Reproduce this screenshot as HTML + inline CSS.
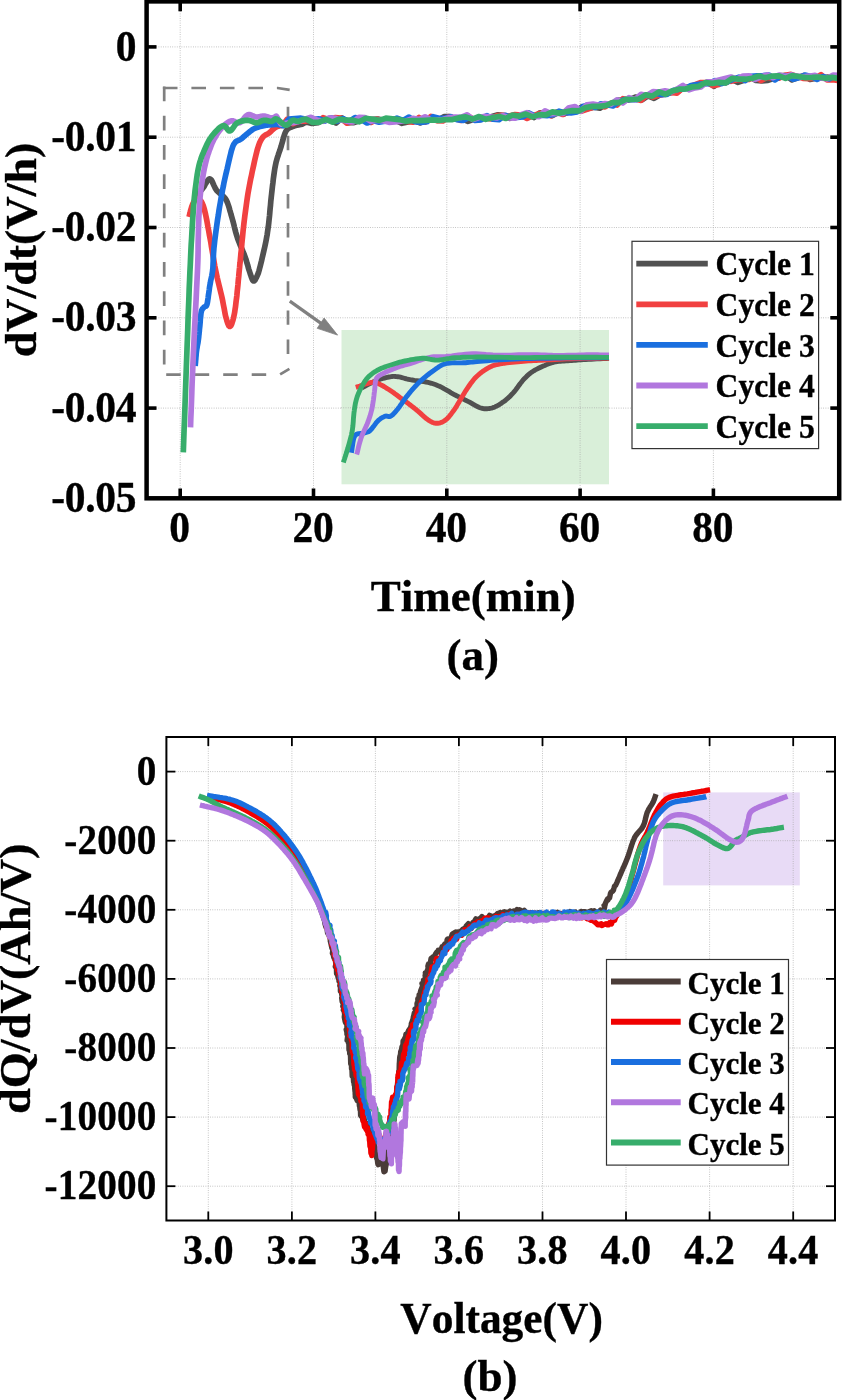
<!DOCTYPE html>
<html><head><meta charset="utf-8"><title>Figure</title>
<style>
html,body{margin:0;padding:0;background:#fff;}
body{width:842px;height:1400px;overflow:hidden;}
text{font-family:"Liberation Serif",serif;font-weight:bold;fill:#000;font-kerning:none;stroke:#000;stroke-width:0.35px;}
.lg{font-size:31px;}
.tk{font-size:41.5px;letter-spacing:-0.25px;}
.tk2{font-size:38.6px;letter-spacing:0.2px;}
.ax{font-size:45px;}
</style></head><body>
<svg width="842" height="1400" viewBox="0 0 842 1400" style="display:block">
<rect x="0" y="0" width="842" height="1400" fill="#fff"/>
<g stroke="#a6a6a6" stroke-width="0.8" stroke-dasharray="0.8 1.5" fill="none"><line x1="180.2" y1="2" x2="180.2" y2="497"/>
<line x1="313.5" y1="2" x2="313.5" y2="497"/>
<line x1="446.8" y1="2" x2="446.8" y2="497"/>
<line x1="580.1" y1="2" x2="580.1" y2="497"/>
<line x1="713.4" y1="2" x2="713.4" y2="497"/>
<line x1="147" y1="46.9" x2="839" y2="46.9"/>
<line x1="147" y1="137.2" x2="839" y2="137.2"/>
<line x1="147" y1="227.5" x2="839" y2="227.5"/>
<line x1="147" y1="317.8" x2="839" y2="317.8"/>
<line x1="147" y1="408.1" x2="839" y2="408.1"/></g>
<g fill="none" stroke="#808080" stroke-width="2.7"><path d="M164.2 86.6 V364.4" stroke-dasharray="14.7 14.55"/><path d="M166.2 374.7 H279.7 L289.4 368.8" stroke-dasharray="14.5 14"/><path d="M162.9 88 H277.5 L289.7 89.8" stroke-dasharray="14.6 13.9"/><path d="M288 353.9 V100" stroke-dasharray="14.4 14.7"/></g>
<line x1="289.8" y1="301.1" x2="326" y2="326.9" stroke="#808080" stroke-width="3.2"/>
<polygon points="337.6,335.1 317.2,328.3 324.1,318" fill="#808080" stroke="#808080" stroke-width="0.8" stroke-linejoin="round"/>
<rect x="341.5" y="330" width="267.5" height="154.3" fill="#d9efd9"/>
<g stroke="#a6a6a6" stroke-width="0.8" stroke-dasharray="0.8 1.5" fill="none"><line x1="446.8" y1="330" x2="446.8" y2="484"/><line x1="580.1" y1="330" x2="580.1" y2="484"/><line x1="341" y1="407.8" x2="609" y2="407.8"/></g>
<polyline points="196.0,196.0 196.9,195.0 197.8,194.0 198.6,193.1 199.5,192.1 200.4,191.1 201.3,190.1 202.1,189.1 203.0,188.0 203.9,186.8 204.7,185.3 205.6,183.7 206.5,182.2 207.3,180.8 208.2,179.7 209.1,179.0 209.9,178.8 210.7,179.3 211.5,180.2 212.3,181.6 213.0,183.3 213.8,185.2 214.7,187.0 215.5,188.7 216.5,190.2 217.6,191.4 218.8,192.5 220.0,193.6 221.3,194.6 222.6,195.7 223.8,196.8 225.0,198.2 226.0,199.7 226.9,201.4 227.7,203.4 228.4,205.4 229.1,207.5 229.7,209.8 230.4,212.1 231.0,214.4 231.7,216.8 232.4,219.2 233.1,221.8 233.8,224.4 234.4,227.1 235.1,229.8 235.8,232.5 236.6,235.2 237.4,237.7 238.3,240.2 239.2,242.6 240.2,245.1 241.2,247.5 242.3,249.9 243.2,252.2 244.2,254.5 245.0,256.7 245.8,258.9 246.5,261.2 247.1,263.4 247.8,265.5 248.3,267.6 248.9,269.6 249.5,271.4 250.0,273.0 250.5,274.5 251.0,275.9 251.4,277.2 251.9,278.4 252.3,279.4 252.7,280.2 253.1,280.7 253.6,281.0 254.1,280.9 254.6,280.5 255.1,279.9 255.6,279.1 256.1,278.1 256.6,277.0 257.1,276.0 257.5,275.0 257.9,274.1 258.2,273.4 258.5,272.6 258.7,271.8 259.0,270.8 259.3,269.6 259.7,268.1 260.2,266.2 260.8,263.8 261.5,261.0 262.2,257.9 263.0,254.5 263.8,251.0 264.6,247.6 265.3,244.4 265.9,241.5 266.4,238.9 266.8,236.6 267.2,234.4 267.5,232.2 267.8,230.1 268.1,227.8 268.5,225.3 268.8,222.5 269.1,219.4 269.5,216.0 269.8,212.5 270.1,208.8 270.5,205.1 270.8,201.3 271.2,197.6 271.6,194.0 272.0,190.4 272.4,186.7 272.9,182.9 273.3,179.2 273.8,175.5 274.3,172.0 274.8,168.6 275.4,165.5 276.0,162.6 276.7,160.0 277.4,157.5 278.2,155.2 278.9,152.9 279.7,150.8 280.4,148.6 281.1,146.5 281.7,144.3 282.3,142.2 282.9,140.1 283.4,138.0 284.0,136.1 284.6,134.3 285.2,132.7 285.9,131.3 286.6,130.2 287.4,129.3 288.1,128.7 288.9,128.2 289.7,127.7 290.6,127.4 291.5,127.0 292.5,126.6 293.5,126.2 294.7,125.8 295.9,125.5 297.1,125.3 298.3,125.0 299.6,124.7 300.8,124.5 302.0,124.2 306.0,122.0 312.0,123.5 318.0,122.7 324.0,119.3 330.0,119.7 336.0,123.1 342.0,117.9 348.0,122.7 354.0,122.6 360.0,120.6 366.0,119.5 372.0,119.3 378.0,119.1 384.0,120.2 390.0,120.5 396.0,120.7 402.0,123.3 408.0,122.0 414.0,120.8 420.0,122.9 426.0,118.1 432.0,117.7 438.0,120.3 444.0,116.7 450.0,116.5 456.0,119.2 462.0,118.8 468.0,121.3 474.0,119.4 480.0,118.5 486.0,118.2 492.0,116.5 498.0,114.8 504.0,115.6 510.0,118.3 516.0,115.0 522.0,115.7 528.0,113.0 534.0,117.5 540.0,112.8 546.0,112.7 552.0,115.7 558.0,112.7 564.0,113.9 570.0,111.8 576.0,111.5 582.0,106.7 588.0,108.4 594.0,107.1 600.0,108.2 606.0,104.1 612.0,104.4 618.0,100.0 624.0,100.9 630.0,99.3 636.0,97.0 642.0,99.8 648.0,95.9 654.0,98.3 660.0,94.7 666.0,93.6 672.0,92.5 678.0,91.5 684.0,87.0 690.0,87.5 696.0,85.0 702.0,84.9 708.0,82.0 714.0,86.3 720.0,80.9 726.0,82.8 732.0,79.7 738.0,82.4 744.0,80.4 750.0,76.7 756.0,80.5 762.0,80.8 768.0,80.4 774.0,78.2 780.0,75.5 786.0,75.6 792.0,79.9 798.0,77.6 804.0,75.3 810.0,79.5 816.0,78.1 822.0,77.9 828.0,77.1 834.0,77.8 840.0,77.2" fill="none" stroke="#515151" stroke-width="5.7" stroke-linejoin="round" />
<polyline points="189.0,217.0 189.4,215.6 189.7,214.2 190.1,212.7 190.4,211.2 190.8,209.8 191.2,208.5 191.6,207.2 192.0,206.0 192.4,204.9 192.9,203.8 193.4,202.7 193.9,201.7 194.4,200.8 194.9,200.0 195.4,199.4 196.0,199.0 196.6,198.8 197.2,198.7 197.8,198.7 198.5,198.9 199.2,199.2 199.8,199.7 200.4,200.3 201.0,201.0 201.5,201.8 202.0,202.8 202.5,203.8 203.0,205.0 203.5,206.4 204.0,208.0 204.5,209.8 205.0,212.0 205.6,214.5 206.2,217.3 206.8,220.4 207.4,223.7 208.0,227.2 208.7,230.7 209.3,234.4 210.0,238.0 210.7,241.7 211.3,245.7 212.0,249.7 212.7,253.8 213.4,258.0 214.1,262.1 214.8,266.1 215.6,270.0 216.4,273.8 217.2,277.6 218.1,281.4 219.0,285.1 219.9,288.7 220.7,292.1 221.5,295.4 222.2,298.5 222.8,301.4 223.3,304.2 223.8,306.8 224.3,309.2 224.7,311.5 225.1,313.7 225.5,315.7 226.0,317.5 226.5,319.2 226.9,320.9 227.4,322.4 227.9,323.8 228.4,324.9 228.8,325.8 229.3,326.3 229.8,326.5 230.3,326.3 230.8,325.8 231.3,324.9 231.8,323.8 232.2,322.4 232.7,320.9 233.2,319.2 233.6,317.5 234.0,315.7 234.4,313.7 234.8,311.5 235.1,309.2 235.5,306.8 235.8,304.2 236.1,301.4 236.5,298.5 236.9,295.3 237.2,291.8 237.6,288.1 238.0,284.2 238.3,280.4 238.7,276.7 239.0,273.2 239.3,270.0 239.6,267.2 239.8,264.7 240.1,262.4 240.3,260.2 240.5,258.1 240.7,255.9 240.9,253.5 241.2,251.0 241.5,248.3 241.7,245.6 241.9,242.9 242.2,240.0 242.5,237.1 242.8,234.0 243.1,230.8 243.5,227.3 243.9,223.6 244.4,219.5 244.9,215.3 245.5,211.0 246.1,206.6 246.7,202.2 247.3,198.0 247.9,194.0 248.6,190.1 249.3,186.3 250.0,182.5 250.7,178.9 251.5,175.3 252.2,171.8 252.9,168.6 253.6,165.5 254.2,162.6 254.8,159.9 255.4,157.3 256.0,154.8 256.6,152.5 257.1,150.4 257.7,148.4 258.3,146.5 258.9,144.8 259.4,143.3 260.0,142.0 260.6,140.8 261.2,139.7 261.7,138.8 262.4,137.8 263.0,137.0 263.7,136.3 264.4,135.7 265.1,135.2 265.8,134.9 266.5,134.5 267.3,134.1 268.0,133.7 268.8,133.2 269.6,132.6 270.4,131.8 271.2,131.1 272.0,130.3 272.8,129.5 273.7,128.7 274.5,128.1 275.4,127.5 276.3,127.0 277.2,126.6 278.2,126.3 279.1,126.0 280.1,125.8 281.1,125.6 282.0,125.3 283.0,125.0 287.0,119.4 293.0,123.7 299.0,120.9 305.0,121.2 311.0,119.7 317.0,122.2 323.0,117.7 329.0,119.8 335.0,117.7 341.0,118.2 347.0,123.2 353.0,121.3 359.0,119.9 365.0,120.5 371.0,122.5 377.0,119.3 383.0,120.7 389.0,121.2 395.0,119.1 401.0,120.0 407.0,121.4 413.0,122.2 419.0,117.5 425.0,122.1 431.0,116.4 437.0,120.7 443.0,120.9 449.0,116.7 455.0,118.3 461.0,120.5 467.0,115.5 473.0,119.0 479.0,119.8 485.0,117.9 491.0,119.0 497.0,115.7 503.0,115.3 509.0,116.0 515.0,114.6 521.0,115.2 527.0,118.4 533.0,115.6 539.0,113.6 545.0,112.5 551.0,115.8 557.0,112.0 563.0,114.5 569.0,110.8 575.0,110.0 581.0,111.3 587.0,109.3 593.0,107.3 599.0,105.3 605.0,106.9 611.0,103.1 617.0,105.0 623.0,98.7 629.0,99.7 635.0,99.0 641.0,100.4 647.0,95.0 653.0,97.1 659.0,95.1 665.0,94.1 671.0,92.3 677.0,93.1 683.0,87.9 689.0,87.0 695.0,84.6 701.0,82.5 707.0,82.5 713.0,85.7 719.0,84.4 725.0,79.2 731.0,81.3 737.0,79.7 743.0,79.7 749.0,79.5 755.0,76.9 761.0,80.6 767.0,77.4 773.0,78.2 779.0,78.1 785.0,75.2 791.0,74.4 797.0,76.4 803.0,78.4 809.0,78.7 815.0,78.2 821.0,74.7 827.0,79.9 833.0,79.6 839.0,80.6" fill="none" stroke="#f14040" stroke-width="5.7" stroke-linejoin="round" />
<polyline points="195.2,366.0 195.3,364.2 195.5,362.5 195.6,360.7 195.8,358.9 195.9,357.1 196.1,355.4 196.2,353.7 196.4,352.0 196.6,350.4 196.8,348.9 197.1,347.4 197.3,345.9 197.6,344.4 197.9,343.0 198.1,341.5 198.3,340.0 198.5,338.5 198.7,337.1 198.8,335.7 199.0,334.3 199.1,332.8 199.3,331.3 199.4,329.7 199.6,328.0 199.8,326.1 200.0,324.0 200.2,321.7 200.3,319.5 200.6,317.2 200.8,315.1 201.0,313.3 201.3,311.8 201.6,310.6 201.9,309.8 202.3,309.1 202.7,308.6 203.1,308.2 203.5,307.8 203.8,307.4 204.2,307.0 204.6,306.7 204.9,306.5 205.3,306.5 205.6,306.5 205.9,306.3 206.3,306.0 206.6,305.3 207.0,304.2 207.4,302.6 207.7,300.5 208.1,298.1 208.4,295.5 208.8,292.8 209.2,290.1 209.5,287.5 209.9,285.2 210.3,283.1 210.6,281.2 211.0,279.4 211.4,277.6 211.8,275.8 212.1,274.0 212.4,272.1 212.7,270.0 212.9,267.8 213.0,265.6 213.1,263.4 213.2,261.0 213.3,258.6 213.4,256.2 213.5,253.6 213.7,251.0 213.9,248.3 214.2,245.6 214.5,242.9 214.8,240.0 215.2,237.1 215.6,234.0 216.0,230.8 216.5,227.3 217.0,223.6 217.6,219.5 218.3,215.3 218.9,211.0 219.6,206.6 220.4,202.2 221.1,198.0 221.8,194.0 222.5,190.2 223.3,186.4 224.0,182.6 224.8,179.0 225.6,175.4 226.4,172.0 227.2,168.7 227.9,165.5 228.6,162.4 229.3,159.4 230.0,156.4 230.7,153.6 231.3,151.0 232.1,148.6 232.8,146.4 233.6,144.6 234.5,143.2 235.4,142.1 236.4,141.3 237.3,140.8 238.3,140.4 239.3,140.0 240.3,139.5 241.2,138.9 242.1,138.2 242.9,137.5 243.8,136.7 244.6,136.0 245.4,135.3 246.3,134.6 247.1,133.9 247.9,133.2 248.7,132.6 249.5,131.9 250.3,131.3 251.0,130.7 251.8,130.1 252.6,129.5 253.5,129.0 254.5,128.5 255.6,128.0 256.7,127.6 257.9,127.2 259.1,126.8 260.3,126.5 261.6,126.1 262.8,125.9 264.0,125.6 265.1,125.4 266.3,125.2 267.4,125.1 268.5,125.0 269.6,124.9 270.8,124.8 271.9,124.7 273.0,124.6 277.0,124.3 283.0,125.8 289.0,119.2 295.0,118.6 301.0,118.2 307.0,119.4 313.0,119.3 319.0,118.8 325.0,121.1 331.0,117.8 337.0,121.1 343.0,118.5 349.0,121.6 355.0,117.6 361.0,119.3 367.0,123.0 373.0,120.6 379.0,122.2 385.0,121.2 391.0,120.8 397.0,118.2 403.0,120.4 409.0,117.1 415.0,121.6 421.0,122.4 427.0,121.7 433.0,116.7 439.0,118.3 445.0,118.0 451.0,116.7 457.0,119.6 463.0,120.4 469.0,117.4 475.0,120.5 481.0,119.9 487.0,115.6 493.0,119.2 499.0,119.7 505.0,115.3 511.0,117.2 517.0,117.3 523.0,116.8 529.0,113.2 535.0,116.0 541.0,115.2 547.0,115.7 553.0,114.8 559.0,111.2 565.0,112.7 571.0,112.8 577.0,112.0 583.0,106.6 589.0,104.8 595.0,107.5 601.0,103.8 607.0,104.8 613.0,106.0 619.0,101.5 625.0,99.5 631.0,99.6 637.0,99.6 643.0,95.0 649.0,95.4 655.0,92.7 661.0,94.7 667.0,94.5 673.0,90.5 679.0,89.1 685.0,88.8 691.0,85.6 697.0,84.6 703.0,83.9 709.0,83.7 715.0,80.6 721.0,83.7 727.0,81.8 733.0,79.3 739.0,77.2 745.0,80.6 751.0,76.3 757.0,75.9 763.0,75.6 769.0,75.1 775.0,79.9 781.0,75.9 787.0,76.0 793.0,79.1 799.0,77.7 805.0,75.0 811.0,76.5 817.0,79.3 823.0,76.5 829.0,78.9 835.0,75.7" fill="none" stroke="#1a6fdf" stroke-width="5.7" stroke-linejoin="round" />
<polyline points="190.5,427.3 190.8,418.4 191.2,409.7 191.5,401.0 191.8,392.3 192.1,383.4 192.5,374.4 192.9,365.1 193.3,355.5 193.8,345.2 194.3,334.1 194.9,322.6 195.5,310.9 196.1,299.5 196.6,288.7 197.1,278.7 197.5,270.0 197.8,262.6 198.0,256.1 198.1,250.4 198.1,245.4 198.2,240.7 198.3,236.3 198.4,231.9 198.5,227.3 198.7,222.7 198.8,218.2 199.0,213.9 199.2,209.8 199.5,205.7 199.7,201.8 200.0,197.9 200.4,194.0 200.8,190.1 201.3,186.3 201.9,182.5 202.5,178.9 203.1,175.3 203.7,171.8 204.3,168.6 205.0,165.5 205.7,162.6 206.4,159.9 207.1,157.3 207.8,154.9 208.6,152.7 209.3,150.5 210.1,148.5 210.8,146.5 211.5,144.7 212.2,143.0 212.9,141.5 213.5,140.2 214.2,138.8 215.0,137.6 215.7,136.3 216.5,135.0 217.3,133.7 218.2,132.4 219.2,131.1 220.1,129.9 221.1,128.7 222.1,127.6 223.0,126.5 224.0,125.6 225.0,124.7 225.9,123.9 226.9,123.2 227.8,122.5 228.8,121.9 229.8,121.4 230.7,121.0 231.7,120.8 232.7,120.8 233.6,121.1 234.6,121.5 235.6,122.0 236.5,122.5 237.5,122.8 238.5,123.0 239.5,122.8 240.5,122.2 241.6,121.3 242.6,120.1 243.7,118.8 244.7,117.5 245.8,116.3 246.8,115.4 247.9,114.8 249.0,114.6 250.0,114.7 251.1,115.0 252.2,115.5 253.3,116.0 254.3,116.4 255.4,116.8 256.4,117.0 257.4,117.0 258.4,116.9 259.3,116.8 260.3,116.6 261.2,116.4 262.1,116.2 263.1,116.1 264.0,116.1 265.0,116.2 266.0,116.5 267.0,116.8 268.0,117.1 269.0,117.4 269.9,117.7 270.8,117.9 271.6,118.0 272.3,117.9 273.0,117.8 273.6,117.6 274.2,117.3 274.7,117.0 275.3,116.7 275.8,116.4 276.4,116.1 281.0,124.2 287.0,123.0 293.0,122.6 299.0,121.4 305.0,119.3 311.0,117.3 317.0,120.0 323.0,121.3 329.0,117.9 335.0,118.3 341.0,119.9 347.0,121.1 353.0,122.0 359.0,117.3 365.0,117.6 371.0,121.3 377.0,120.3 383.0,120.7 389.0,122.3 395.0,121.8 401.0,121.2 407.0,120.7 413.0,118.3 419.0,119.6 425.0,116.8 431.0,120.1 437.0,120.0 443.0,119.6 449.0,117.8 455.0,117.2 461.0,117.3 467.0,114.8 473.0,119.5 479.0,117.5 485.0,116.4 491.0,117.1 497.0,117.9 503.0,115.6 509.0,118.0 515.0,118.2 521.0,114.7 527.0,112.7 533.0,115.9 539.0,116.7 545.0,110.9 551.0,113.6 557.0,113.5 563.0,113.3 569.0,107.7 575.0,106.6 581.0,111.0 587.0,104.8 593.0,104.1 599.0,105.4 605.0,103.6 611.0,104.3 617.0,99.8 623.0,103.0 629.0,97.6 635.0,99.7 641.0,94.3 647.0,95.5 653.0,91.6 659.0,92.1 665.0,90.9 671.0,92.0 677.0,89.2 683.0,85.5 689.0,89.8 695.0,87.9 701.0,86.9 707.0,81.9 713.0,81.8 719.0,79.9 725.0,78.4 731.0,77.0 737.0,79.1 743.0,76.1 749.0,75.8 755.0,79.5 761.0,76.9 767.0,74.9 773.0,77.6 779.0,75.0 785.0,76.5 791.0,74.9 797.0,76.2 803.0,76.8 809.0,76.2 815.0,75.4 821.0,78.0 827.0,78.8 833.0,75.1 839.0,75.3" fill="none" stroke="#b177de" stroke-width="5.7" stroke-linejoin="round" />
<polyline points="183.3,452.4 183.7,440.8 184.1,429.0 184.6,417.2 185.0,405.4 185.4,393.7 185.8,382.2 186.2,371.0 186.6,360.0 187.0,349.2 187.4,338.5 187.8,327.9 188.1,317.5 188.5,307.5 188.9,297.8 189.2,288.6 189.6,280.0 189.9,272.0 190.3,264.5 190.6,257.4 190.9,250.7 191.2,244.4 191.6,238.5 191.9,232.8 192.2,227.3 192.5,222.2 192.8,217.5 193.1,213.2 193.3,209.1 193.6,205.3 194.0,201.5 194.3,197.8 194.7,194.0 195.1,190.1 195.6,186.3 196.1,182.5 196.6,178.9 197.1,175.3 197.7,171.8 198.3,168.6 199.0,165.5 199.7,162.6 200.6,159.9 201.4,157.3 202.3,154.9 203.3,152.7 204.2,150.5 205.1,148.5 206.0,146.5 206.8,144.7 207.6,143.0 208.4,141.5 209.1,140.2 209.9,138.8 210.8,137.6 211.7,136.3 212.7,135.0 213.9,133.6 215.1,132.2 216.5,130.7 218.0,129.2 219.4,127.9 220.8,126.9 222.0,126.1 223.2,125.6 224.2,125.7 225.1,126.2 225.9,127.1 226.7,128.2 227.4,129.3 228.2,130.3 229.0,130.9 229.8,131.0 230.7,130.6 231.6,129.8 232.4,128.7 233.4,127.4 234.3,126.1 235.3,124.8 236.3,123.6 237.4,122.8 238.6,122.2 239.9,121.7 241.2,121.2 242.6,120.9 244.0,120.6 245.3,120.4 246.7,120.3 247.9,120.3 249.1,120.4 250.2,120.7 251.3,121.1 252.3,121.5 253.4,122.0 254.4,122.4 255.4,122.7 256.4,122.8 257.4,122.7 258.4,122.4 259.3,122.1 260.3,121.6 261.2,121.2 262.1,120.8 263.1,120.5 264.0,120.3 265.0,120.3 266.0,120.4 267.0,120.6 268.0,120.8 269.0,121.1 269.9,121.3 270.8,121.4 271.6,121.4 272.3,121.2 272.9,120.8 273.4,120.4 273.9,119.9 274.4,119.4 274.9,119.1 275.6,118.9 276.4,119.0 277.4,119.4 278.5,120.2 279.7,121.2 281.0,122.3 282.3,123.3 283.6,124.2 284.8,124.9 285.9,125.2 286.9,125.1 287.8,124.6 288.6,123.9 289.5,123.1 290.3,122.2 291.0,121.4 291.8,120.7 292.5,120.3 293.2,120.2 293.9,120.2 294.6,120.4 295.2,120.6 295.9,120.9 296.5,121.2 297.1,121.3 297.7,121.4 298.3,121.3 298.8,121.2 299.4,121.0 299.9,120.8 300.4,120.6 300.9,120.3 301.5,120.1 302.0,119.9 306.0,119.1 312.7,122.4 319.3,122.2 326.0,119.3 332.6,122.2 339.3,119.1 346.0,120.2 352.6,120.2 359.3,121.8 365.9,118.3 372.6,119.3 379.3,120.4 385.9,118.2 392.6,118.8 399.2,119.6 405.9,121.2 412.6,120.6 419.2,120.7 425.9,120.3 432.5,119.9 439.2,120.4 445.9,119.5 452.5,119.6 459.2,117.7 465.8,116.9 472.5,119.1 479.2,116.5 485.8,119.3 492.5,117.7 499.1,116.4 505.8,118.5 512.5,115.0 519.1,116.1 525.8,114.0 532.4,116.9 539.1,114.6 545.8,114.8 552.4,111.9 559.1,113.1 565.7,111.8 572.4,110.6 579.1,110.8 585.7,107.6 592.4,106.4 599.0,106.3 605.7,105.7 612.4,102.5 619.0,102.6 625.7,99.4 632.3,99.5 639.0,99.0 645.7,94.8 652.3,96.1 659.0,91.9 665.6,94.3 672.3,90.9 679.0,89.2 685.6,89.0 692.3,86.8 698.9,86.3 705.6,82.6 712.3,83.4 718.9,82.4 725.6,82.9 732.2,78.4 738.9,79.2 745.6,79.2 752.2,78.3 758.9,76.0 765.5,77.8 772.2,76.1 778.9,75.8 785.5,78.4 792.2,75.6 798.8,76.5 805.5,77.6 812.2,77.4 818.8,77.0 825.5,78.3 832.1,77.4 838.8,78.6" fill="none" stroke="#37ad6b" stroke-width="5.7" stroke-linejoin="round" />
<polyline points="362.0,387.7 363.8,386.8 365.6,385.8 367.4,384.9 369.3,383.9 371.1,383.0 372.9,382.1 374.6,381.3 376.3,380.6 378.0,380.0 379.6,379.4 381.3,378.8 382.9,378.4 384.5,378.0 386.0,377.6 387.4,377.3 388.8,377.0 390.1,376.8 391.2,376.6 392.2,376.5 393.2,376.4 394.3,376.4 395.3,376.5 396.4,376.6 397.7,376.7 399.1,376.9 400.4,377.2 401.9,377.6 403.4,378.0 405.0,378.5 406.6,378.9 408.4,379.3 410.2,379.7 412.2,380.0 414.4,380.4 416.7,380.7 419.1,381.0 421.5,381.3 423.8,381.6 426.0,382.0 428.0,382.4 429.8,382.8 431.5,383.3 433.0,383.8 434.5,384.3 435.9,384.8 437.4,385.4 438.9,386.1 440.5,386.8 442.2,387.6 443.9,388.6 445.7,389.6 447.5,390.6 449.3,391.7 451.1,392.8 452.9,393.8 454.7,394.8 456.5,395.7 458.4,396.7 460.2,397.6 462.1,398.5 464.0,399.4 465.7,400.3 467.4,401.1 469.0,401.9 470.5,402.7 471.8,403.5 473.2,404.2 474.4,405.0 475.6,405.6 476.7,406.3 477.8,406.8 478.9,407.3 479.9,407.7 480.8,408.0 481.7,408.3 482.5,408.4 483.3,408.6 484.2,408.7 485.0,408.7 486.0,408.7 487.0,408.7 488.1,408.6 489.1,408.5 490.2,408.3 491.4,408.1 492.5,407.8 493.7,407.4 494.9,406.9 496.2,406.3 497.5,405.6 498.9,404.8 500.2,404.0 501.6,403.1 503.0,402.1 504.3,401.2 505.6,400.2 506.8,399.2 508.0,398.2 509.1,397.1 510.2,396.1 511.2,394.9 512.3,393.8 513.4,392.6 514.5,391.3 515.6,390.0 516.7,388.5 517.8,387.0 518.9,385.4 520.1,383.9 521.2,382.4 522.3,381.0 523.4,379.7 524.5,378.5 525.6,377.4 526.6,376.4 527.7,375.4 528.8,374.4 529.9,373.5 531.1,372.6 532.4,371.7 533.8,370.8 535.3,369.9 536.9,369.1 538.5,368.3 540.1,367.5 541.7,366.7 543.3,366.0 544.8,365.4 546.2,364.8 547.5,364.3 548.8,363.8 550.0,363.3 551.3,362.9 552.6,362.6 554.0,362.2 555.5,361.9 557.1,361.6 558.8,361.4 560.5,361.2 562.3,361.1 564.2,361.0 566.0,360.9 567.9,360.7 569.8,360.6 571.7,360.5 573.5,360.3 575.4,360.2 577.2,360.0 579.2,359.9 581.3,359.8 583.4,359.6 585.8,359.5 588.4,359.4 591.1,359.2 594.0,359.1 596.9,358.9 600.0,358.8 603.0,358.6 606.1,358.5 609.0,358.3" fill="none" stroke="#515151" stroke-width="4.9" stroke-linejoin="round" />
<polyline points="355.8,387.3 357.8,386.7 359.8,386.0 361.9,385.2 363.9,384.5 365.9,383.9 367.8,383.3 369.5,382.8 371.0,382.5 372.2,382.3 373.2,382.2 374.1,382.2 374.8,382.3 375.5,382.5 376.2,382.8 377.0,383.1 378.0,383.5 379.2,384.0 380.4,384.6 381.7,385.3 383.1,386.0 384.5,386.8 385.9,387.7 387.3,388.6 388.8,389.5 390.3,390.5 391.8,391.5 393.3,392.5 394.8,393.7 396.4,394.8 398.0,396.0 399.6,397.2 401.3,398.4 403.0,399.7 404.8,400.9 406.6,402.3 408.4,403.6 410.2,405.0 412.0,406.4 413.8,407.8 415.5,409.1 417.2,410.5 418.8,411.9 420.5,413.4 422.1,414.9 423.7,416.3 425.2,417.6 426.6,418.8 428.0,419.8 429.3,420.6 430.5,421.3 431.6,421.9 432.7,422.4 433.7,422.8 434.8,423.1 435.8,423.2 436.9,423.3 438.0,423.2 439.1,423.1 440.2,422.8 441.3,422.4 442.5,421.9 443.6,421.3 444.7,420.6 445.8,419.8 446.9,418.9 448.0,417.8 449.1,416.6 450.1,415.3 451.2,413.9 452.3,412.4 453.5,410.8 454.7,409.1 456.0,407.2 457.2,405.1 458.6,402.8 459.9,400.4 461.3,398.0 462.7,395.7 464.1,393.4 465.4,391.3 466.7,389.3 468.0,387.4 469.3,385.5 470.6,383.6 471.9,381.9 473.2,380.2 474.6,378.5 476.1,377.0 477.7,375.5 479.3,374.1 481.0,372.7 482.7,371.4 484.5,370.2 486.2,369.1 487.9,368.1 489.6,367.2 491.2,366.4 492.6,365.8 494.0,365.3 495.4,364.9 496.8,364.6 498.4,364.3 500.1,363.9 502.1,363.6 504.3,363.2 506.8,362.9 509.4,362.6 512.2,362.3 515.0,362.0 517.9,361.8 520.7,361.5 523.4,361.3 526.0,361.1 528.5,360.9 531.0,360.8 533.5,360.6 536.1,360.5 538.8,360.4 541.7,360.3 544.8,360.1 548.1,359.9 551.6,359.7 555.3,359.5 559.1,359.3 563.0,359.1 567.0,358.9 571.0,358.7 575.0,358.6 579.1,358.5 583.2,358.4 587.5,358.3 591.8,358.2 596.1,358.2 600.4,358.1 604.7,358.1 609.0,358.0" fill="none" stroke="#f14040" stroke-width="4.9" stroke-linejoin="round" />
<polyline points="351.4,452.7 351.8,450.5 352.1,448.1 352.5,445.7 352.8,443.4 353.2,441.1 353.6,439.0 354.2,437.2 354.9,435.8 355.8,434.8 356.8,434.1 358.0,433.7 359.2,433.6 360.4,433.5 361.6,433.4 362.8,433.3 363.8,433.1 364.7,432.8 365.5,432.6 366.3,432.4 367.0,432.2 367.7,432.0 368.5,431.7 369.2,431.2 370.1,430.5 371.0,429.6 372.0,428.4 373.0,427.1 374.1,425.7 375.1,424.3 376.1,422.9 377.1,421.7 378.1,420.7 379.0,419.9 380.0,419.1 380.9,418.4 381.8,417.8 382.7,417.3 383.6,416.9 384.4,416.5 385.2,416.2 385.9,416.0 386.6,416.1 387.3,416.2 387.9,416.4 388.5,416.5 389.2,416.6 389.9,416.5 390.6,416.2 391.4,415.7 392.2,415.1 393.1,414.3 393.9,413.4 394.8,412.5 395.8,411.4 396.7,410.3 397.7,409.1 398.7,407.8 399.7,406.4 400.7,404.9 401.8,403.3 402.9,401.6 404.1,400.0 405.3,398.3 406.6,396.6 408.0,394.9 409.4,393.1 410.9,391.3 412.5,389.4 414.1,387.6 415.8,385.8 417.4,384.1 419.1,382.4 420.8,380.8 422.6,379.2 424.4,377.7 426.2,376.2 428.0,374.7 429.8,373.3 431.6,372.0 433.3,370.8 434.9,369.6 436.4,368.5 437.9,367.5 439.3,366.5 440.8,365.6 442.3,364.8 444.0,364.2 445.8,363.6 447.8,363.2 449.9,363.0 452.1,362.9 454.5,362.8 456.8,362.9 459.1,362.9 461.4,362.9 463.6,362.8 465.6,362.7 467.4,362.5 469.1,362.3 470.8,362.1 472.6,362.0 474.7,361.7 477.1,361.5 480.0,361.3 483.4,361.0 487.1,360.8 491.1,360.4 495.4,360.1 500.0,359.8 504.7,359.5 509.5,359.2 514.5,359.0 519.6,358.8 525.0,358.6 530.6,358.5 536.3,358.4 542.2,358.3 548.1,358.2 554.1,358.1 560.0,358.0 566.0,357.9 572.0,357.9 578.1,357.8 584.3,357.8 590.5,357.7 596.7,357.7 602.9,357.6 609.0,357.6" fill="none" stroke="#1a6fdf" stroke-width="4.9" stroke-linejoin="round" />
<polyline points="356.7,454.5 357.3,452.4 357.8,450.2 358.3,448.0 358.8,445.9 359.4,443.7 360.0,441.6 360.6,439.6 361.2,437.6 361.9,435.7 362.7,433.8 363.5,432.0 364.3,430.3 365.1,428.5 365.9,426.8 366.7,425.1 367.4,423.3 368.1,421.5 368.7,419.8 369.3,418.1 369.9,416.4 370.4,414.7 370.9,412.9 371.4,411.0 371.9,409.1 372.3,407.0 372.7,404.8 373.0,402.5 373.4,400.1 373.7,397.7 374.0,395.5 374.2,393.3 374.5,391.3 374.7,389.4 374.9,387.6 375.0,385.9 375.1,384.3 375.3,382.7 375.5,381.3 375.8,380.0 376.3,378.8 376.9,377.8 377.5,377.0 378.3,376.3 379.1,375.7 380.0,375.2 381.0,374.6 382.1,374.1 383.4,373.4 384.9,372.6 386.5,371.8 388.3,371.0 390.2,370.2 392.2,369.4 394.1,368.6 395.9,367.9 397.7,367.2 399.3,366.6 400.8,366.2 402.2,365.8 403.6,365.4 405.1,365.0 406.6,364.6 408.3,364.2 410.2,363.6 412.3,362.9 414.7,362.1 417.2,361.2 419.8,360.3 422.4,359.5 425.0,358.6 427.5,357.9 429.8,357.4 431.9,357.0 433.8,356.8 435.6,356.8 437.4,356.7 439.2,356.7 441.1,356.7 443.3,356.7 445.8,356.5 448.6,356.2 451.7,355.9 455.0,355.4 458.4,355.0 462.0,354.6 465.5,354.2 469.1,354.0 472.5,353.8 475.9,353.8 479.3,353.9 482.6,354.1 486.0,354.4 489.5,354.6 492.9,354.9 496.4,355.1 500.0,355.2 503.6,355.2 507.3,355.2 511.1,355.1 514.8,354.9 518.6,354.8 522.4,354.7 526.2,354.6 530.0,354.6 533.8,354.6 537.5,354.7 541.2,354.9 545.0,355.0 548.8,355.1 552.5,355.3 556.2,355.4 560.0,355.4 563.8,355.4 567.8,355.3 571.7,355.2 575.7,355.1 579.6,355.0 583.3,354.9 586.8,354.8 590.0,354.8 592.9,354.8 595.5,354.8 597.9,354.8 600.2,354.9 602.4,354.9 604.5,354.9 606.7,355.0 609.0,355.0" fill="none" stroke="#b177de" stroke-width="4.9" stroke-linejoin="round" />
<polyline points="343.4,462.5 343.9,460.7 344.5,459.0 345.0,457.3 345.6,455.6 346.1,453.9 346.7,452.1 347.2,450.2 347.8,448.3 348.4,446.2 349.0,444.1 349.6,441.9 350.2,439.6 350.8,437.3 351.4,435.0 351.9,432.8 352.3,430.5 352.6,428.2 352.9,425.9 353.1,423.6 353.3,421.3 353.4,419.0 353.6,416.8 353.8,414.7 354.0,412.6 354.3,410.6 354.5,408.8 354.8,406.9 355.1,405.2 355.4,403.4 355.8,401.7 356.2,400.1 356.7,398.4 357.2,396.7 357.8,395.1 358.5,393.5 359.1,391.9 359.8,390.3 360.6,388.8 361.3,387.3 362.1,385.9 362.9,384.5 363.7,383.2 364.5,381.9 365.3,380.7 366.2,379.5 367.1,378.3 368.1,377.2 369.2,376.1 370.4,375.1 371.6,374.1 372.9,373.1 374.2,372.2 375.6,371.4 377.0,370.5 378.5,369.7 379.9,369.0 381.4,368.3 382.9,367.7 384.5,367.1 386.0,366.5 387.6,366.0 389.2,365.5 390.8,365.0 392.4,364.5 393.9,364.0 395.4,363.5 396.8,363.1 398.3,362.6 399.8,362.2 401.3,361.8 403.0,361.4 404.8,361.0 406.8,360.6 409.0,360.2 411.2,359.7 413.6,359.3 415.9,358.9 418.3,358.6 420.5,358.4 422.6,358.3 424.5,358.3 426.3,358.5 428.1,358.8 429.8,359.2 431.4,359.5 433.2,359.8 435.0,360.0 436.9,360.1 438.9,360.0 440.9,359.8 443.0,359.5 445.1,359.1 447.3,358.7 449.6,358.4 452.1,358.0 454.7,357.8 457.4,357.6 460.2,357.5 463.0,357.3 466.0,357.2 469.1,357.1 472.5,357.1 476.1,357.0 480.0,357.0 484.3,357.0 489.0,357.1 493.9,357.2 499.1,357.3 504.4,357.4 509.7,357.5 514.9,357.6 520.0,357.6 524.9,357.6 529.8,357.6 534.6,357.5 539.4,357.4 544.3,357.4 549.4,357.3 554.6,357.2 560.0,357.2 565.7,357.2 571.6,357.2 577.7,357.2 583.9,357.3 590.2,357.3 596.5,357.3 602.8,357.4 609.0,357.4" fill="none" stroke="#37ad6b" stroke-width="4.9" stroke-linejoin="round" />
<g stroke="#000" stroke-width="3.6" fill="none"><line x1="180.2" y1="2" x2="180.2" y2="11.3"/>
<line x1="180.2" y1="498" x2="180.2" y2="488.5"/>
<line x1="313.5" y1="2" x2="313.5" y2="11.3"/>
<line x1="313.5" y1="498" x2="313.5" y2="488.5"/>
<line x1="446.8" y1="2" x2="446.8" y2="11.3"/>
<line x1="446.8" y1="498" x2="446.8" y2="488.5"/>
<line x1="580.1" y1="2" x2="580.1" y2="11.3"/>
<line x1="580.1" y1="498" x2="580.1" y2="488.5"/>
<line x1="713.4" y1="2" x2="713.4" y2="11.3"/>
<line x1="713.4" y1="498" x2="713.4" y2="488.5"/>
<line x1="147" y1="46.9" x2="156.5" y2="46.9"/>
<line x1="839" y1="46.9" x2="830.3" y2="46.9"/>
<line x1="147" y1="137.2" x2="156.5" y2="137.2"/>
<line x1="839" y1="137.2" x2="830.3" y2="137.2"/>
<line x1="147" y1="227.5" x2="156.5" y2="227.5"/>
<line x1="839" y1="227.5" x2="830.3" y2="227.5"/>
<line x1="147" y1="317.8" x2="156.5" y2="317.8"/>
<line x1="839" y1="317.8" x2="830.3" y2="317.8"/>
<line x1="147" y1="408.1" x2="156.5" y2="408.1"/>
<line x1="839" y1="408.1" x2="830.3" y2="408.1"/></g>
<rect x="146.6" y="1.4" width="692.6" height="496.9" fill="none" stroke="#000" stroke-width="4.5"/>
<rect x="632" y="241.3" width="186.6" height="207.3" fill="#fff" stroke="#333" stroke-width="1.2"/>
<line x1="636.3" y1="263.7" x2="707.8" y2="263.7" stroke="#515151" stroke-width="5.8"/>
<text transform="translate(715.6 275.3) scale(1.02 1.07)" class="lg" text-anchor="start">Cycle 1</text>
<line x1="636.3" y1="304.3" x2="707.8" y2="304.3" stroke="#f14040" stroke-width="5.8"/>
<text transform="translate(715.6 315.9) scale(1.02 1.07)" class="lg" text-anchor="start">Cycle 2</text>
<line x1="636.3" y1="344.9" x2="707.8" y2="344.9" stroke="#1a6fdf" stroke-width="5.8"/>
<text transform="translate(715.6 356.5) scale(1.02 1.07)" class="lg" text-anchor="start">Cycle 3</text>
<line x1="636.3" y1="385.5" x2="707.8" y2="385.5" stroke="#b177de" stroke-width="5.8"/>
<text transform="translate(715.6 397.1) scale(1.02 1.07)" class="lg" text-anchor="start">Cycle 4</text>
<line x1="636.3" y1="426.1" x2="707.8" y2="426.1" stroke="#37ad6b" stroke-width="5.8"/>
<text transform="translate(715.6 437.7) scale(1.02 1.07)" class="lg" text-anchor="start">Cycle 5</text>
<text transform="translate(136.3 60.5) scale(1 1.06)" class="tk" text-anchor="end">0</text>
<text transform="translate(136.3 150.8) scale(1 1.06)" class="tk" text-anchor="end">-0.01</text>
<text transform="translate(136.3 241.1) scale(1 1.06)" class="tk" text-anchor="end">-0.02</text>
<text transform="translate(136.3 331.4) scale(1 1.06)" class="tk" text-anchor="end">-0.03</text>
<text transform="translate(136.3 421.7) scale(1 1.06)" class="tk" text-anchor="end">-0.04</text>
<text transform="translate(136.3 512.0) scale(1 1.06)" class="tk" text-anchor="end">-0.05</text>
<text transform="translate(179.6 541.7) scale(1 1.06)" class="tk" text-anchor="middle">0</text>
<text transform="translate(312.9 541.7) scale(1 1.06)" class="tk" text-anchor="middle">20</text>
<text transform="translate(446.2 541.7) scale(1 1.06)" class="tk" text-anchor="middle">40</text>
<text transform="translate(579.5 541.7) scale(1 1.06)" class="tk" text-anchor="middle">60</text>
<text transform="translate(712.8 541.7) scale(1 1.06)" class="tk" text-anchor="middle">80</text>
<text transform="translate(473.3 611.0)" class="ax" text-anchor="middle">Time(min)</text>
<text transform="translate(472.8 670.3)" class="ax" text-anchor="middle">(a)</text>
<text transform="translate(36.0 250.0) rotate(-90) scale(1.022 1)" class="ax" text-anchor="middle">dV/dt(V/h)</text>
<g stroke="#a6a6a6" stroke-width="0.8" stroke-dasharray="0.8 1.5" fill="none"><line x1="208.3" y1="737" x2="208.3" y2="1220.5"/>
<line x1="291.9" y1="737" x2="291.9" y2="1220.5"/>
<line x1="375.4" y1="737" x2="375.4" y2="1220.5"/>
<line x1="458.9" y1="737" x2="458.9" y2="1220.5"/>
<line x1="542.5" y1="737" x2="542.5" y2="1220.5"/>
<line x1="626.0" y1="737" x2="626.0" y2="1220.5"/>
<line x1="709.6" y1="737" x2="709.6" y2="1220.5"/>
<line x1="793.2" y1="737" x2="793.2" y2="1220.5"/>
<line x1="166.4" y1="771.6" x2="835" y2="771.6"/>
<line x1="166.4" y1="840.7" x2="835" y2="840.7"/>
<line x1="166.4" y1="909.8" x2="835" y2="909.8"/>
<line x1="166.4" y1="978.9" x2="835" y2="978.9"/>
<line x1="166.4" y1="1048.0" x2="835" y2="1048.0"/>
<line x1="166.4" y1="1117.1" x2="835" y2="1117.1"/>
<line x1="166.4" y1="1186.2" x2="835" y2="1186.2"/></g>
<rect x="663.2" y="792.4" width="136.6" height="93" fill="#e8dbf6"/>
<g stroke="#a6a6a6" stroke-width="0.8" stroke-dasharray="0.8 1.5" fill="none"><line x1="709.6" y1="792" x2="709.6" y2="886"/><line x1="793.2" y1="792" x2="793.2" y2="886"/><line x1="663" y1="840.7" x2="800" y2="840.7"/></g>
<polyline points="207.0,797.0 208.6,797.3 210.1,797.6 211.7,797.9 213.3,798.2 214.9,798.5 216.4,798.8 218.0,799.1 219.6,799.4 221.1,799.7 222.7,800.1 224.3,800.4 225.8,800.8 227.3,801.3 228.9,801.8 230.4,802.3 231.9,802.9 233.4,803.5 234.8,804.1 236.3,804.7 237.8,805.4 239.2,806.0 240.7,806.7 242.1,807.4 243.5,808.2 244.9,808.9 246.4,809.7 247.8,810.4 249.2,811.2 250.6,812.0 251.9,812.8 253.3,813.6 254.7,814.4 256.1,815.2 257.4,816.1 258.8,816.9 260.1,817.8 261.4,818.7 262.8,819.6 264.1,820.5 265.3,821.5 266.6,822.5 267.8,823.5 269.1,824.5 270.3,825.6 271.5,826.6 272.6,827.7 273.8,828.8 274.9,830.0 276.0,831.1 277.2,832.3 278.2,833.4 279.3,834.6 280.4,835.8 281.4,837.0 282.5,838.2 283.5,839.4 284.5,840.7 285.5,841.9 286.5,843.2 287.5,844.4 288.5,845.7 289.4,847.0 290.4,848.3 291.3,849.6 292.2,850.9 293.1,852.2 294.0,853.5 294.9,854.9 295.8,856.2 296.6,857.6 297.4,859.0 298.2,860.3 299.0,861.7 299.8,863.1 300.6,864.5 301.3,865.9 302.1,867.4 302.8,868.8 303.6,870.2 304.3,871.6 305.0,873.0 305.7,874.5 306.5,875.9 307.2,877.3 307.9,878.8 308.6,880.2 309.3,881.6 310.0,883.1 310.7,884.5 311.4,886.0 312.1,887.4 312.7,888.9 313.3,890.3 314.0,891.8 314.6,893.3 315.1,894.8 315.7,896.3 316.3,897.8 316.9,899.3 317.4,900.8 318.0,902.3 318.5,903.8 319.1,905.3 319.7,906.8 320.2,908.3 320.7,909.8 321.3,911.3 321.8,912.8 322.4,914.3 322.9,915.8 323.4,917.3 323.9,918.8 324.4,920.4 324.9,921.9 324.9,923.6 325.9,927.0 327.2,927.8 327.2,929.6 328.1,927.3 327.2,930.4 327.6,933.0 328.4,933.0 328.8,933.8 330.0,937.9 330.2,936.6 330.3,941.1 330.3,941.3 330.4,941.5 331.1,944.5 331.9,948.3 332.0,945.8 333.2,947.6 332.4,953.3 333.8,952.0 333.1,953.8 333.8,957.6 334.3,955.5 335.4,959.5 334.5,958.8 335.3,960.2 335.9,964.2 335.3,966.7 336.8,968.7 336.9,969.3 336.4,967.8 336.6,973.7 337.9,975.1 337.7,975.8 337.5,974.7 338.2,978.0 338.9,979.4 339.0,981.3 340.2,982.3 340.3,982.0 339.8,985.9 340.5,986.1 340.4,990.9 341.1,990.8 340.4,989.9 340.9,991.9 342.4,992.8 341.7,994.7 342.4,996.2 341.7,997.9 342.2,1001.8 343.5,1001.8 342.8,1006.3 343.9,1004.2 344.2,1009.5 343.3,1010.0 343.6,1009.6 344.4,1012.6 344.6,1014.3 344.3,1017.1 344.7,1019.4 345.3,1017.8 344.9,1020.3 345.5,1022.7 345.9,1021.2 346.8,1022.9 347.0,1028.4 347.3,1029.2 346.2,1029.6 346.9,1032.2 347.0,1034.0 346.9,1033.9 347.7,1035.9 347.1,1040.3 348.4,1041.2 348.1,1040.0 348.1,1040.0 348.4,1043.1 348.6,1038.2 348.8,1039.5 349.0,1049.7 349.3,1048.5 349.5,1046.2 349.7,1053.3 349.9,1049.7 350.2,1052.8 350.4,1055.2 350.5,1056.3 350.7,1063.3 350.8,1064.3 351.0,1059.5 351.1,1061.2 351.3,1064.4 351.4,1061.6 351.5,1068.5 351.9,1068.0 352.2,1076.2 352.6,1076.5 352.9,1074.8 353.2,1075.7 353.6,1082.1 353.9,1079.8 354.2,1085.0 354.6,1081.8 354.7,1088.6 354.7,1079.9 354.8,1082.3 354.9,1090.6 355.0,1085.5 355.0,1089.3 355.1,1090.3 355.2,1094.5 355.3,1090.7 355.3,1097.0 356.2,1097.9 357.1,1100.4 358.1,1097.3 359.0,1102.7 359.2,1102.7 359.4,1106.1 359.7,1105.6 359.9,1108.5 360.1,1110.1 360.4,1108.4 360.6,1115.3 360.9,1116.0 361.8,1113.0 362.8,1119.9 363.7,1116.2 364.7,1122.5 365.6,1123.6 366.1,1128.7 366.7,1124.2 367.2,1123.5 367.7,1127.4 368.2,1129.9 368.7,1133.3 369.3,1129.9 369.8,1135.0 370.7,1131.3 371.5,1141.7 372.4,1139.1 373.3,1141.9 374.2,1142.6 374.3,1147.4 374.5,1148.7 374.7,1151.3 374.9,1147.2 375.1,1147.5 375.3,1147.2 375.5,1154.0 376.1,1154.3 376.6,1158.0 377.2,1159.0 377.8,1163.7 378.3,1164.6 378.9,1162.6 381.2,1161.6 381.9,1163.0 382.6,1160.5 383.2,1166.0 383.9,1171.8 384.6,1168.8 385.1,1171.1 385.6,1167.1 386.0,1165.1 386.5,1161.6 386.6,1163.5 386.6,1160.4 386.7,1158.2 386.8,1154.2 386.8,1152.6 386.9,1152.1 387.2,1150.4 387.5,1153.0 387.8,1148.9 388.1,1149.3 388.4,1144.4 388.8,1143.2 389.1,1143.3 389.4,1141.7 389.7,1135.2 390.0,1141.1 390.3,1135.0 390.6,1130.6 390.9,1133.6 391.2,1129.0 391.4,1126.6 391.7,1132.6 392.0,1127.8 392.3,1122.1 392.6,1125.2 392.9,1124.0 393.2,1119.8 393.5,1116.9 393.8,1121.4 394.1,1120.3 394.4,1111.4 394.7,1114.9 395.1,1107.8 395.4,1106.5 395.7,1110.9 396.0,1106.5 396.1,1109.7 396.1,1103.4 396.2,1099.9 396.3,1098.0 396.4,1098.2 396.4,1098.7 396.5,1100.0 396.6,1096.7 396.6,1096.5 396.7,1093.7 396.8,1089.4 397.0,1087.0 397.2,1090.9 397.4,1085.7 397.6,1082.4 397.9,1083.1 398.1,1082.3 398.3,1078.0 398.4,1077.2 398.5,1074.8 398.6,1077.8 398.7,1072.0 398.9,1070.8 399.0,1073.5 399.1,1072.2 399.2,1067.4 399.3,1063.6 399.4,1062.8 399.7,1057.5 400.1,1055.4 400.4,1056.0 400.7,1051.3 401.0,1058.6 401.3,1053.3 401.7,1048.9 402.0,1046.7 402.4,1048.8 402.8,1048.9 403.1,1041.1 403.5,1040.5 403.8,1047.8 404.2,1042.6 404.6,1040.0 403.9,1040.0 405.7,1036.5 405.5,1039.7 405.9,1034.1 408.1,1035.1 407.6,1033.1 408.7,1030.3 408.3,1031.5 409.9,1028.6 410.7,1027.3 411.5,1024.0 411.3,1023.9 411.5,1023.0 411.8,1022.6 413.5,1017.6 413.3,1016.8 413.2,1018.5 414.3,1013.1 415.3,1011.9 416.2,1010.5 415.1,1008.9 416.1,1008.7 417.6,1008.4 417.0,1003.3 417.1,1006.9 418.1,1003.7 417.8,998.8 419.6,1000.0 419.1,997.3 419.1,995.0 419.4,996.6 420.5,991.7 421.4,990.5 420.7,990.8 422.4,986.6 422.7,985.8 422.0,983.5 422.8,985.2 423.5,984.3 423.5,980.2 424.0,981.7 425.5,977.3 425.1,975.6 426.0,972.8 425.3,972.9 426.0,973.4 427.3,970.5 427.6,969.6 428.3,969.2 427.9,966.3 428.5,964.0 430.2,964.6 430.9,959.3 431.1,958.5 433.0,957.1 432.9,956.9 433.7,958.1 435.7,953.7 436.7,952.2 438.0,951.8 438.3,950.2 440.3,951.5 441.0,950.4 442.1,946.8 443.0,946.7 444.8,944.1 444.4,944.8 446.6,945.1 447.1,939.8 448.1,941.3 448.0,939.0 448.8,939.3 450.9,938.1 452.1,934.5 453.4,933.5 453.7,933.2 455.7,931.9 457.2,932.6 458.1,931.9 459.7,931.7 461.0,931.3 462.6,929.5 464.5,928.5 465.2,929.8 466.2,926.0 468.3,923.7 468.9,926.2 471.1,924.3 472.4,923.7 473.0,922.4 474.3,921.8 475.8,918.9 477.7,920.0 479.1,918.9 480.7,918.1 482.0,916.5 483.5,918.8 485.3,918.6 486.6,918.7 487.8,918.4 489.6,915.4 491.5,916.3 492.8,917.3 494.0,916.1 495.9,915.4 497.5,913.6 499.1,915.7 500.2,912.4 501.7,913.5 504.3,911.7 505.9,913.1 506.4,912.3 508.1,913.0 510.0,911.1 511.3,912.8 513.5,911.1 514.6,911.9 516.9,909.6 517.5,910.5 519.5,909.7 520.6,910.4 522.5,912.5 524.4,910.4 525.2,912.3 527.8,914.2 528.7,914.5 531.0,913.1 532.3,913.2 533.2,914.1 534.7,914.6 537.2,915.5 538.4,912.8 540.5,915.4 542.2,914.5 543.4,913.7 544.4,913.4 546.7,913.5 548.3,914.0 549.6,915.5 550.8,913.8 552.4,915.3 554.4,913.2 555.6,914.0 557.5,912.3 558.7,913.2 560.9,913.5 562.9,914.8 564.5,914.4 565.6,913.4 567.1,913.0 568.3,914.3 570.1,911.7 572.0,914.0 573.5,912.7 575.4,912.0 576.2,913.4 578.4,914.3 579.9,914.0 581.0,911.4 583.3,912.0 584.3,911.6 586.3,912.2 588.1,914.0 589.4,911.5 591.3,910.8 592.7,911.8 594.2,910.7 596.0,912.4 597.8,913.3 598.9,911.9 600.6,910.0 602.6,911.1 603.9,910.4 604.7,906.7 604.1,905.4 604.9,905.5 605.4,903.4 606.7,900.5 607.5,899.1 607.8,900.1 609.2,897.7 609.6,897.8 610.4,893.7 611.1,892.2 612.6,891.2 613.5,890.1 613.4,889.9 614.1,887.7 614.5,886.3 615.7,885.2 616.3,883.8 617.0,882.3 617.6,880.9 618.2,879.4 618.9,877.9 619.5,876.5 620.1,875.0 620.8,873.5 621.4,872.0 622.0,870.6 622.7,869.1 623.3,867.6 624.0,866.2 624.6,864.7 625.3,863.3 625.9,861.8 626.5,860.3 627.1,858.8 627.7,857.3 628.2,855.8 628.7,854.3 629.2,852.8 629.7,851.3 630.2,849.7 630.7,848.2 631.2,846.7 631.6,845.2 632.2,843.6 632.7,842.1 633.3,840.6 633.9,839.2 634.5,837.7 635.3,836.3 636.2,835.0 637.2,833.7 638.2,832.5 639.3,831.3 640.4,830.1 641.4,828.9 642.3,827.6 643.1,826.2 643.8,824.8 644.3,823.2 644.8,821.7 645.2,820.2 645.5,818.6 645.9,817.0 646.3,815.5 646.7,814.0 647.2,812.4 647.9,811.0 648.6,809.5 649.4,808.2 650.2,806.8 651.1,805.5 652.0,804.1 652.8,802.7 653.5,801.3 654.1,799.8 654.6,798.3 655.1,796.8 655.6,795.3 656.0,794.2" fill="none" stroke="#4a3c38" stroke-width="5.4" stroke-linejoin="round" />
<polyline points="208.0,797.0 209.6,797.4 211.1,797.8 212.7,798.1 214.2,798.5 215.8,798.9 217.3,799.2 218.9,799.6 220.4,800.0 222.0,800.4 223.5,800.8 225.1,801.2 226.6,801.7 228.1,802.2 229.6,802.7 231.1,803.3 232.6,803.9 234.1,804.5 235.6,805.2 237.0,805.8 238.5,806.5 239.9,807.2 241.3,807.9 242.7,808.7 244.2,809.4 245.6,810.2 247.0,810.9 248.4,811.7 249.8,812.5 251.2,813.3 252.6,814.1 253.9,814.9 255.3,815.7 256.7,816.5 258.1,817.3 259.4,818.2 260.8,819.1 262.1,820.0 263.4,820.9 264.7,821.8 266.0,822.7 267.3,823.7 268.5,824.7 269.7,825.7 271.0,826.8 272.2,827.8 273.3,828.9 274.5,830.0 275.6,831.2 276.7,832.3 277.9,833.4 279.0,834.6 280.0,835.8 281.1,837.0 282.2,838.2 283.2,839.4 284.2,840.6 285.3,841.8 286.3,843.1 287.3,844.3 288.3,845.6 289.2,846.9 290.2,848.2 291.1,849.4 292.1,850.7 293.0,852.0 293.9,853.4 294.8,854.7 295.7,856.0 296.5,857.4 297.4,858.7 298.2,860.1 299.1,861.5 299.9,862.8 300.7,864.2 301.5,865.6 302.2,867.0 303.0,868.4 303.8,869.8 304.5,871.2 305.3,872.7 306.0,874.1 306.7,875.5 307.5,876.9 308.2,878.3 308.9,879.8 309.6,881.2 310.3,882.6 311.1,884.1 311.8,885.5 312.4,886.9 313.1,888.4 313.8,889.9 314.4,891.3 315.0,892.8 315.6,894.3 316.2,895.8 316.8,897.3 317.4,898.7 318.0,900.2 318.5,901.7 319.1,903.2 319.7,904.7 320.2,906.2 320.8,907.7 321.3,909.2 321.9,910.7 322.4,912.2 322.9,913.8 323.5,915.3 324.0,916.8 324.5,918.3 325.8,918.6 325.7,921.0 325.7,920.8 326.1,923.7 326.4,924.3 326.8,928.0 328.1,927.7 328.6,930.1 329.3,934.0 329.2,934.2 329.5,937.1 330.6,935.0 330.4,936.5 330.7,938.8 332.2,941.0 331.7,942.4 332.1,945.4 332.1,944.9 332.9,945.9 333.9,947.5 333.6,948.5 334.7,951.5 334.9,952.3 334.2,954.4 335.8,958.3 335.4,959.9 335.3,960.0 335.9,961.2 336.2,964.8 336.6,966.6 336.7,965.8 337.5,968.7 337.7,969.3 337.6,970.0 338.9,970.6 338.8,972.8 338.7,973.8 340.0,978.0 339.7,978.2 340.5,980.8 341.1,983.8 340.8,984.1 341.2,984.1 341.3,987.6 341.8,988.7 341.9,991.8 342.7,989.6 343.0,994.8 343.3,993.7 342.9,994.8 342.7,997.4 344.2,1000.4 344.2,1002.5 344.5,1000.9 345.1,1003.2 345.5,1004.6 344.3,1008.2 344.7,1010.5 345.5,1011.6 345.1,1012.0 346.6,1011.4 346.7,1013.0 346.5,1015.8 347.4,1016.1 346.9,1021.1 348.1,1020.9 347.7,1023.7 348.3,1023.3 349.3,1024.3 349.5,1028.1 349.5,1030.0 350.0,1032.6 350.6,1030.9 349.6,1035.8 350.0,1033.9 351.4,1039.3 351.7,1038.5 351.4,1040.0 351.4,1040.0 351.6,1037.6 351.9,1040.7 352.2,1043.9 352.4,1051.5 352.7,1044.6 353.0,1053.5 353.3,1051.4 353.4,1049.5 353.5,1052.9 353.7,1058.2 353.8,1059.1 353.9,1064.3 354.1,1060.2 354.2,1062.8 354.5,1068.9 354.9,1070.3 355.2,1069.5 355.6,1063.6 355.9,1073.3 356.2,1075.9 356.6,1073.4 356.9,1071.4 357.2,1076.1 357.4,1074.4 357.5,1083.0 357.6,1076.6 357.7,1083.1 357.8,1081.1 357.9,1083.8 358.0,1087.5 358.4,1094.1 358.8,1088.2 359.3,1094.0 359.7,1096.4 360.1,1092.9 360.5,1092.9 360.9,1101.0 361.3,1099.2 361.8,1098.9 362.2,1102.7 362.3,1101.2 362.4,1110.9 362.5,1108.9 362.6,1109.2 362.7,1106.4 362.8,1116.4 362.9,1111.8 363.0,1118.2 363.1,1121.0 363.2,1115.1 363.3,1119.8 364.5,1126.8 365.6,1123.6 366.1,1129.4 366.6,1127.6 367.1,1130.9 367.6,1127.8 368.0,1134.1 368.5,1132.7 369.0,1135.0 369.2,1134.7 369.4,1140.2 369.6,1138.4 369.8,1143.4 370.0,1146.5 370.2,1141.9 370.4,1142.8 370.5,1145.5 370.7,1148.2 370.9,1152.9 371.1,1151.4 371.3,1153.6 371.6,1154.0 371.8,1155.6 372.1,1145.9 372.3,1149.8 372.6,1145.2 372.8,1142.9 373.1,1143.2 373.3,1136.4 373.6,1138.8 373.8,1135.3 374.1,1133.3 374.3,1135.2 374.6,1129.6 374.9,1126.1 375.1,1129.3 375.7,1126.0 376.4,1135.4 377.0,1136.0 377.6,1139.3 378.3,1139.1 378.9,1138.8 379.7,1135.6 380.4,1144.0 381.2,1143.9 381.9,1149.8 382.7,1146.4 383.2,1142.1 383.7,1139.1 384.1,1145.7 384.6,1139.9 385.1,1139.0 385.6,1140.2 386.0,1133.1 386.5,1135.0 386.9,1132.9 387.3,1135.1 387.6,1131.3 388.0,1133.1 388.4,1131.1 388.8,1123.3 389.2,1127.3 389.5,1124.0 389.9,1117.0 390.3,1117.0 390.7,1117.9 390.8,1119.1 390.9,1118.5 391.0,1109.7 391.1,1114.0 391.3,1108.5 391.4,1105.4 391.5,1103.0 391.6,1101.5 391.7,1103.8 391.8,1102.7 392.6,1097.2 393.4,1101.0 394.3,1101.9 395.1,1097.0 395.4,1094.6 395.8,1095.0 396.1,1095.7 396.5,1093.9 396.8,1086.9 397.2,1087.9 397.5,1085.6 397.7,1083.7 397.9,1078.3 398.0,1077.4 398.2,1074.6 398.4,1074.4 398.5,1080.5 398.7,1078.3 398.9,1072.3 399.5,1074.1 400.2,1072.8 400.9,1072.0 401.5,1062.7 402.2,1065.2 402.9,1062.8 403.1,1059.9 403.3,1056.3 403.6,1054.1 403.8,1060.2 404.1,1056.1 404.3,1055.2 404.6,1051.4 405.0,1054.1 405.5,1045.3 406.0,1052.3 406.5,1045.6 406.9,1042.6 407.4,1047.5 407.9,1038.9 408.4,1040.0 407.9,1042.3 408.4,1036.8 409.2,1035.6 410.3,1033.5 411.2,1035.8 410.1,1032.6 410.8,1029.7 411.9,1029.2 412.5,1030.1 412.6,1024.8 413.9,1027.2 414.9,1025.3 413.8,1024.1 415.4,1022.3 415.5,1017.4 416.7,1018.1 417.2,1014.2 416.6,1015.6 416.9,1015.1 417.6,1011.8 418.6,1008.8 418.7,1009.7 420.5,1007.9 420.5,1006.3 420.8,1004.0 422.0,1001.0 421.3,1002.9 423.0,999.0 423.3,998.7 424.0,994.1 424.4,994.5 424.2,993.9 425.0,991.2 425.0,991.9 426.4,986.6 426.2,988.2 427.5,987.6 426.9,985.7 428.2,980.4 427.9,979.4 428.2,980.2 429.0,978.7 429.2,978.0 430.7,976.1 431.1,973.1 431.0,973.8 431.5,970.4 432.1,967.0 433.7,969.2 434.0,967.3 435.4,964.7 436.1,962.2 435.9,960.4 436.6,958.5 438.8,961.1 438.6,959.0 440.8,957.5 441.4,955.4 442.7,953.1 443.8,951.6 443.7,953.8 444.7,949.1 445.6,947.0 446.7,949.9 448.5,946.2 448.3,946.8 450.1,945.7 451.1,940.8 451.4,942.9 452.7,938.7 454.1,938.1 455.1,939.5 456.6,939.4 457.3,935.2 459.9,934.9 461.0,934.0 461.8,935.2 463.0,932.8 464.8,929.7 465.4,929.7 466.6,930.9 468.8,928.5 469.9,926.7 471.2,928.5 472.1,926.9 474.1,924.5 474.9,923.4 476.6,923.1 477.4,922.0 478.9,923.6 480.8,921.1 482.1,920.8 484.2,919.6 484.6,918.4 486.1,918.0 488.4,917.9 490.2,919.9 490.9,919.2 493.1,919.5 494.2,918.5 495.9,916.3 497.4,918.5 499.2,916.5 501.3,917.7 502.9,914.6 504.6,916.7 506.1,916.9 507.7,916.9 508.9,914.2 510.6,913.7 511.8,914.3 513.3,916.0 515.6,916.2 516.9,915.6 517.9,914.1 520.3,914.4 521.5,915.4 522.8,915.6 525.0,912.9 526.2,915.8 527.7,912.7 529.1,914.5 530.6,912.8 532.3,915.4 534.9,913.1 536.0,915.0 537.0,915.7 539.4,915.0 540.7,915.4 542.7,913.7 543.6,916.1 545.5,914.2 547.6,915.3 549.0,915.7 550.7,915.3 552.5,915.7 553.9,915.9 554.6,916.5 557.0,913.5 558.6,915.6 559.9,914.3 561.6,913.9 563.0,915.5 565.0,915.3 566.8,916.6 568.4,915.6 569.2,913.8 571.2,915.5 572.1,914.3 574.9,916.5 576.4,915.1 577.4,916.1 579.0,914.3 580.6,916.6 582.1,917.7 584.4,914.9 585.3,917.1 586.9,918.7 588.3,918.8 589.8,919.5 590.8,920.2 592.9,920.4 593.3,921.0 594.3,921.6 596.2,923.1 597.7,924.8 598.9,924.8 601.3,923.7 601.9,925.5 604.3,924.4 606.1,923.7 607.5,924.8 608.6,924.8 609.7,922.5 611.5,923.8 613.0,919.6 613.9,918.7 614.6,920.3 615.6,917.4 616.6,916.1 617.4,914.7 618.3,913.4 619.1,912.0 620.0,910.6 620.8,909.3 621.5,907.9 622.3,906.4 623.0,905.0 623.7,903.6 624.3,902.1 625.0,900.6 625.6,899.1 626.1,897.7 626.6,896.1 627.1,894.6 627.6,893.1 628.0,891.6 628.5,890.0 628.9,888.5 629.3,886.9 629.7,885.4 630.0,883.8 630.4,882.2 630.8,880.7 631.2,879.1 631.6,877.6 631.9,876.0 632.3,874.5 632.8,872.9 633.2,871.4 633.6,869.8 634.0,868.3 634.4,866.8 634.8,865.2 635.2,863.7 635.6,862.1 636.0,860.6 636.5,859.0 636.9,857.5 637.3,855.9 637.7,854.4 638.2,852.9 638.6,851.3 639.1,849.8 639.6,848.3 640.1,846.8 640.7,845.3 641.3,843.8 641.9,842.3 642.7,840.9 643.4,839.5 644.2,838.1 645.0,836.7 645.8,835.3 646.5,833.9 647.2,832.5 647.9,831.0 648.5,829.5 649.1,828.0 649.7,826.6 650.3,825.1 650.9,823.6 651.5,822.1 652.1,820.6 652.7,819.1 653.3,817.6 653.9,816.2 654.6,814.7 655.4,813.3 656.1,811.9 656.9,810.5 657.7,809.1 658.5,807.7 659.4,806.4 660.3,805.1 661.3,803.9 662.4,802.7 663.4,801.5 664.6,800.3 665.8,799.3 667.1,798.4 668.6,797.7 670.0,797.1 671.6,796.6 673.1,796.2 674.7,795.9 676.2,795.6 677.8,795.3 679.4,795.0 681.0,794.8 682.6,794.6 684.2,794.3 685.7,794.1 687.3,793.9 688.9,793.6 690.5,793.3 692.0,793.0 693.6,792.7 695.2,792.5 696.8,792.2 698.3,791.9 699.9,791.6 701.5,791.3 703.1,791.1 704.6,790.8 706.2,790.5 707.8,790.2 709.4,789.9 710.1,789.8" fill="none" stroke="#f00000" stroke-width="5.4" stroke-linejoin="round" />
<polyline points="207.0,795.5 208.6,795.8 210.2,796.0 211.7,796.2 213.3,796.5 214.9,796.7 216.5,796.9 218.1,797.1 219.7,797.4 221.2,797.6 222.8,797.9 224.4,798.1 226.0,798.4 227.5,798.8 229.1,799.1 230.6,799.6 232.2,800.0 233.7,800.5 235.2,801.0 236.7,801.6 238.2,802.2 239.6,802.8 241.1,803.5 242.6,804.2 244.0,804.9 245.4,805.6 246.8,806.3 248.3,807.1 249.7,807.8 251.1,808.6 252.5,809.4 253.9,810.1 255.3,810.9 256.7,811.7 258.0,812.5 259.4,813.4 260.8,814.2 262.1,815.1 263.5,815.9 264.8,816.9 266.1,817.8 267.4,818.7 268.6,819.7 269.9,820.7 271.1,821.7 272.3,822.8 273.5,823.8 274.7,824.9 275.8,826.1 276.9,827.2 278.0,828.4 279.1,829.6 280.2,830.8 281.2,832.0 282.3,833.2 283.3,834.4 284.4,835.6 285.4,836.8 286.4,838.1 287.4,839.3 288.4,840.6 289.4,841.8 290.3,843.1 291.3,844.4 292.2,845.7 293.2,847.0 294.1,848.3 295.0,849.6 295.9,850.9 296.8,852.2 297.7,853.6 298.5,854.9 299.4,856.3 300.2,857.7 301.0,859.1 301.8,860.5 302.6,861.8 303.3,863.2 304.1,864.7 304.8,866.1 305.6,867.5 306.3,868.9 307.1,870.3 307.8,871.8 308.5,873.2 309.2,874.6 309.9,876.1 310.6,877.5 311.3,878.9 312.0,880.4 312.7,881.8 313.4,883.3 314.1,884.7 314.7,886.2 315.4,887.6 316.0,889.1 316.6,890.6 317.2,892.1 317.7,893.6 318.3,895.1 318.9,896.6 319.4,898.1 320.0,899.6 320.6,901.1 321.1,902.6 321.7,904.1 322.2,905.6 322.7,907.1 323.3,908.6 323.8,910.1 324.3,911.6 324.9,913.1 325.7,912.4 326.4,915.8 326.3,917.9 326.6,921.0 327.0,920.9 327.4,922.8 329.1,925.5 328.3,925.8 330.0,925.4 329.7,929.3 330.7,929.6 331.0,932.2 331.0,933.6 331.8,935.4 332.1,935.3 332.4,939.5 332.4,937.5 332.5,942.3 334.4,941.0 333.7,942.4 334.6,945.3 335.3,945.5 335.7,948.3 336.0,951.4 336.5,951.6 336.4,953.4 336.0,954.7 337.5,958.1 336.4,958.6 337.2,957.7 337.3,962.3 338.9,962.6 338.3,964.1 339.3,966.8 338.4,965.9 340.0,968.8 340.0,971.6 340.3,973.0 340.5,972.2 340.2,977.3 340.2,977.5 341.9,977.0 340.9,979.3 341.7,981.2 342.1,984.9 341.9,986.5 342.1,988.1 342.8,988.7 342.5,989.0 343.9,991.4 344.4,990.8 344.0,994.5 343.7,997.1 344.6,995.9 344.5,999.4 344.4,998.9 345.2,1000.6 346.2,1003.9 346.8,1006.0 346.0,1005.6 346.0,1006.8 347.1,1010.9 346.9,1010.5 348.1,1015.2 347.1,1012.2 348.6,1016.0 348.3,1018.2 349.3,1016.9 349.9,1023.1 349.3,1022.1 349.3,1024.3 349.5,1025.6 351.1,1027.0 351.3,1026.9 351.7,1028.1 350.8,1032.8 351.3,1031.2 351.2,1036.3 351.4,1034.1 353.4,1039.4 352.7,1037.9 353.9,1042.6 353.8,1042.8 353.9,1046.7 354.2,1043.6 353.7,1047.9 355.2,1049.6 355.5,1049.4 355.1,1050.9 355.4,1052.4 356.5,1053.4 355.6,1057.9 356.2,1057.6 357.6,1062.0 356.5,1059.7 357.3,1063.5 357.3,1065.2 358.2,1067.9 357.7,1068.6 357.6,1067.1 357.9,1069.0 359.5,1071.9 359.3,1073.9 359.1,1073.3 359.4,1079.1 360.0,1078.4 360.2,1081.6 361.3,1081.4 361.2,1083.0 361.7,1085.6 362.0,1088.8 363.0,1085.9 362.3,1087.4 362.6,1092.9 363.5,1093.3 362.7,1096.1 364.0,1095.0 364.7,1095.2 363.9,1100.7 364.0,1098.8 365.2,1103.4 365.7,1101.5 365.5,1106.5 366.0,1105.4 365.7,1107.3 367.8,1107.8 367.5,1113.8 368.2,1112.1 368.5,1112.8 368.7,1115.0 369.9,1119.7 370.2,1118.7 370.8,1123.3 370.5,1122.5 370.7,1121.8 372.3,1123.0 372.7,1124.8 373.4,1129.6 374.5,1129.2 374.1,1130.7 375.3,1134.2 374.8,1133.3 375.3,1134.3 377.2,1139.4 378.3,1136.4 378.1,1141.9 379.2,1140.5 381.0,1144.1 381.4,1142.2 382.7,1139.6 384.6,1138.8 386.0,1138.1 385.7,1138.1 386.6,1133.8 388.5,1132.9 387.3,1132.9 387.5,1132.9 388.0,1127.5 389.9,1128.4 390.1,1128.8 390.0,1122.7 390.1,1121.3 389.3,1123.8 390.1,1121.7 390.9,1120.3 391.4,1119.8 391.5,1117.6 392.6,1114.7 392.4,1112.3 393.1,1109.6 393.2,1110.4 393.4,1106.6 393.4,1108.1 395.3,1106.7 395.4,1104.0 394.7,1103.9 395.9,1101.3 395.6,1100.1 396.1,1099.7 397.5,1095.9 397.8,1092.8 397.9,1090.5 397.9,1090.0 398.1,1089.1 398.4,1085.5 399.3,1089.0 400.4,1084.5 399.9,1081.4 400.7,1082.6 401.9,1080.1 402.4,1080.4 402.9,1076.3 402.7,1073.9 403.5,1071.8 403.9,1071.0 404.6,1069.6 404.3,1069.4 405.8,1068.5 405.8,1066.8 406.7,1063.2 407.4,1064.7 407.8,1063.5 409.1,1058.3 408.5,1058.1 409.5,1057.6 409.9,1053.9 409.7,1052.8 410.8,1054.0 410.4,1053.4 410.3,1047.4 411.1,1049.2 412.4,1046.8 411.2,1045.7 411.3,1045.2 412.2,1039.9 412.1,1042.2 413.8,1037.2 414.3,1039.2 413.4,1033.4 413.4,1033.8 413.8,1031.0 414.3,1033.0 414.3,1031.7 415.4,1029.2 416.0,1028.7 415.8,1023.6 416.8,1023.4 416.9,1020.8 417.0,1020.3 418.8,1020.6 418.5,1019.7 420.0,1014.7 418.9,1015.9 420.9,1013.4 421.4,1011.0 421.1,1007.3 421.3,1010.2 421.3,1004.6 421.7,1005.0 423.2,1003.6 424.2,1002.9 424.2,1000.9 424.5,996.9 424.3,998.0 424.9,995.4 426.1,994.8 426.0,991.7 426.3,992.0 427.7,988.0 427.5,986.6 428.5,985.8 429.4,984.1 429.6,984.3 430.6,983.2 431.1,981.0 430.1,978.3 431.9,976.9 432.3,974.4 432.9,974.1 434.0,971.2 433.6,972.9 434.3,970.0 434.9,966.9 435.5,969.0 437.0,965.0 437.5,965.8 438.4,961.0 438.2,963.7 439.1,961.5 440.5,960.5 440.4,959.4 442.6,954.9 443.1,952.4 444.3,953.0 444.9,953.4 444.7,952.5 445.7,947.8 447.2,947.0 448.5,945.4 449.5,946.8 451.1,943.9 451.0,943.5 452.7,944.0 453.8,940.6 454.5,940.8 456.2,936.7 456.9,936.1 458.4,936.1 459.1,935.8 461.2,934.0 462.8,932.0 462.9,933.9 465.0,933.2 467.0,931.2 468.2,931.0 469.1,929.5 471.0,928.2 471.7,927.9 473.4,925.7 474.9,925.0 476.0,925.7 477.7,925.4 479.2,922.9 480.3,924.7 481.9,924.4 483.6,923.0 485.2,923.8 485.9,920.3 487.5,920.1 489.0,922.2 490.6,919.9 493.0,919.4 493.8,918.3 495.5,917.8 497.1,917.7 498.1,918.8 500.7,917.3 501.2,918.0 503.1,915.8 504.5,917.4 506.6,914.9 507.8,915.0 509.4,915.7 511.7,913.3 513.1,915.9 514.0,916.1 516.4,915.1 517.0,914.1 519.4,914.3 520.2,915.0 522.2,913.0 523.7,912.6 525.3,912.2 527.7,912.6 528.5,913.1 530.2,913.2 532.4,912.6 534.1,913.3 535.7,913.0 536.2,914.7 537.9,914.4 540.3,912.5 541.3,913.7 543.5,914.7 544.7,913.7 546.6,912.2 548.4,914.6 549.2,913.8 551.4,913.9 552.2,911.9 554.0,912.1 555.9,914.2 557.6,914.8 559.1,913.3 560.2,915.0 562.5,915.1 564.4,912.1 565.6,913.5 567.4,912.0 568.9,913.9 570.1,912.2 572.1,912.0 573.3,911.9 574.9,912.6 576.8,914.1 578.5,913.2 580.2,914.0 581.5,914.4 583.6,913.3 585.2,913.8 586.2,913.3 588.1,912.7 590.0,912.9 591.2,914.5 593.1,913.8 594.5,914.1 596.0,913.0 598.0,912.0 598.6,912.5 600.4,914.7 602.3,914.4 603.9,912.1 605.9,914.3 606.6,913.9 608.8,912.0 610.1,914.0 611.5,913.8 613.5,913.6 615.1,913.5 616.6,913.1 618.0,912.4 619.3,911.4 620.5,910.4 621.6,909.2 622.6,907.9 623.5,906.6 624.4,905.3 625.3,903.9 626.1,902.6 626.9,901.2 627.6,899.8 628.4,898.4 629.1,896.9 629.8,895.5 630.5,894.1 631.2,892.6 631.8,891.1 632.5,889.7 633.1,888.2 633.7,886.7 634.3,885.2 634.9,883.8 635.5,882.3 636.1,880.8 636.7,879.3 637.2,877.8 637.8,876.3 638.3,874.8 638.8,873.3 639.3,871.7 639.8,870.2 640.3,868.7 640.7,867.1 641.1,865.6 641.6,864.1 642.0,862.5 642.4,861.0 642.8,859.4 643.3,857.9 643.7,856.3 644.0,854.8 644.4,853.2 644.8,851.7 645.1,850.1 645.5,848.6 645.8,847.0 646.2,845.4 646.6,843.9 647.0,842.3 647.4,840.8 647.8,839.2 648.2,837.7 648.6,836.1 649.0,834.6 649.4,833.1 649.9,831.5 650.3,830.0 650.8,828.4 651.3,826.9 651.8,825.4 652.4,823.9 653.0,822.4 653.7,821.0 654.5,819.6 655.3,818.2 656.2,816.9 657.2,815.6 658.2,814.4 659.2,813.2 660.3,812.0 661.4,810.9 662.5,809.7 663.7,808.6 664.8,807.5 666.0,806.4 667.2,805.4 668.6,804.5 669.9,803.7 671.4,803.0 672.9,802.5 674.4,802.0 676.0,801.6 677.6,801.3 679.1,801.1 680.7,800.8 682.3,800.6 683.9,800.4 685.5,800.2 687.1,800.0 688.6,799.7 690.2,799.5 691.8,799.2 693.4,798.9 694.9,798.6 696.5,798.4 698.1,798.1 699.7,797.8 701.3,797.6 702.8,797.3 704.4,797.0 706.0,796.8 706.3,796.7" fill="none" stroke="#1a6fdf" stroke-width="5.4" stroke-linejoin="round" />
<polyline points="198.7,796.0 200.2,796.6 201.7,797.1 203.2,797.6 204.7,798.2 206.2,798.8 207.7,799.4 209.1,800.1 210.6,800.8 212.0,801.6 213.4,802.3 214.7,803.2 216.1,803.9 217.5,804.7 218.9,805.5 220.4,806.2 221.8,806.9 223.3,807.6 224.7,808.2 226.2,808.9 227.6,809.5 229.1,810.2 230.6,810.8 232.0,811.5 233.5,812.1 234.9,812.8 236.4,813.4 237.9,814.1 239.3,814.8 240.8,815.4 242.2,816.1 243.6,816.8 245.1,817.5 246.5,818.3 247.9,819.0 249.3,819.8 250.8,820.5 252.2,821.3 253.6,822.0 255.0,822.8 256.3,823.6 257.7,824.4 259.1,825.3 260.4,826.1 261.8,827.0 263.1,827.9 264.4,828.8 265.7,829.7 267.0,830.7 268.2,831.7 269.5,832.7 270.7,833.8 271.9,834.8 273.1,835.9 274.3,837.0 275.4,838.1 276.5,839.2 277.7,840.3 278.8,841.5 279.9,842.7 281.0,843.8 282.1,845.0 283.1,846.2 284.2,847.4 285.2,848.6 286.3,849.8 287.3,851.1 288.3,852.3 289.3,853.6 290.3,854.8 291.2,856.1 292.2,857.4 293.1,858.7 294.0,860.0 294.9,861.3 295.8,862.6 296.7,864.0 297.6,865.3 298.4,866.7 299.2,868.1 300.0,869.4 300.9,870.8 301.7,872.2 302.5,873.6 303.3,875.0 304.1,876.4 304.9,877.8 305.6,879.1 306.4,880.5 307.2,881.9 308.0,883.3 308.8,884.7 309.5,886.1 310.3,887.6 311.0,889.0 311.8,890.4 312.5,891.8 313.3,893.2 314.0,894.6 314.7,896.0 315.5,897.5 316.2,898.9 316.9,900.3 317.6,901.8 318.4,903.2 319.0,904.6 319.6,906.1 320.2,907.6 320.8,909.1 321.3,910.6 321.9,912.1 322.5,913.6 323.1,915.1 323.6,916.6 324.2,918.1 324.8,919.6 324.6,920.0 325.5,920.5 326.6,923.8 326.3,924.0 328.3,925.4 328.0,930.6 328.1,929.6 329.8,929.3 329.1,935.0 330.6,933.5 330.8,934.9 332.0,939.7 331.2,939.2 331.9,940.2 333.3,943.1 332.9,942.9 333.8,944.7 334.7,948.0 334.6,948.0 334.6,949.2 336.5,951.3 336.3,953.3 336.7,955.8 336.6,955.1 338.0,957.5 338.5,957.4 338.6,960.5 338.5,963.9 338.3,963.8 338.9,964.6 340.2,966.4 340.5,966.2 341.2,972.0 341.0,970.1 341.3,971.6 341.2,972.5 341.1,974.6 341.7,979.3 342.2,980.8 342.1,978.8 342.6,984.4 344.2,981.7 344.8,984.2 344.2,987.4 344.5,990.8 345.2,990.4 346.0,990.7 346.7,995.5 346.9,992.8 347.7,997.0 347.7,998.5 347.8,998.4 348.6,998.6 349.2,1000.7 349.1,1006.0 350.1,1004.1 350.8,1009.6 351.6,1010.1 351.0,1010.5 351.8,1009.5 352.4,1013.3 352.5,1016.0 352.0,1014.8 354.0,1016.8 353.1,1017.2 353.5,1021.3 353.4,1021.4 354.1,1022.3 355.5,1028.1 356.0,1026.9 354.8,1028.0 356.0,1029.7 356.7,1033.2 357.3,1033.3 356.4,1037.2 357.9,1034.7 357.0,1039.0 358.4,1042.2 357.3,1039.7 358.3,1043.2 359.2,1044.8 359.0,1044.7 359.6,1048.1 360.4,1047.6 359.1,1050.0 359.7,1052.1 359.6,1055.0 361.0,1053.0 361.4,1055.0 360.5,1058.6 360.9,1058.8 361.7,1063.7 360.9,1061.7 361.7,1063.2 362.7,1068.5 362.7,1067.8 362.8,1069.3 362.5,1069.4 362.0,1073.9 362.5,1076.9 363.5,1076.5 364.4,1076.6 363.1,1077.8 364.2,1079.0 364.2,1083.6 364.7,1083.2 364.8,1085.7 366.5,1085.4 366.6,1090.1 366.5,1090.4 366.7,1089.7 367.2,1095.9 367.9,1094.7 367.8,1098.3 367.4,1096.4 369.7,1100.3 370.0,1101.2 369.2,1102.7 370.9,1101.8 371.5,1107.6 371.6,1104.3 372.6,1108.9 375.0,1107.4 375.8,1109.1 376.0,1113.3 376.0,1113.2 378.0,1114.1 378.5,1116.1 379.3,1117.3 379.7,1117.0 379.5,1118.9 380.2,1121.7 380.7,1123.2 382.3,1125.4 382.5,1127.3 384.5,1126.9 385.4,1126.5 387.7,1127.6 388.1,1129.9 389.1,1124.8 390.1,1125.2 391.3,1123.1 392.2,1119.8 393.3,1120.6 393.2,1119.1 393.6,1119.6 394.7,1114.4 395.2,1115.0 396.0,1111.6 397.6,1110.4 398.0,1110.4 398.3,1110.3 398.2,1107.9 399.8,1106.2 399.8,1102.7 401.5,1103.6 401.9,1100.4 402.6,1101.8 404.1,1100.8 403.1,1097.1 404.5,1098.1 405.1,1096.5 405.8,1091.1 406.7,1092.1 406.4,1089.0 407.4,1091.3 406.8,1087.1 406.6,1087.0 408.1,1082.7 408.8,1082.7 409.3,1082.6 408.2,1078.0 409.9,1075.4 409.0,1078.5 410.6,1073.5 410.2,1070.8 410.1,1069.1 411.4,1070.6 410.9,1070.2 411.9,1067.5 412.6,1063.9 413.2,1063.4 413.0,1060.3 412.9,1060.5 414.1,1058.9 414.2,1058.9 414.3,1053.5 415.0,1056.8 414.4,1052.7 415.9,1051.3 415.3,1049.9 415.7,1046.1 416.6,1045.1 417.3,1047.5 417.2,1046.2 417.8,1043.9 418.6,1042.0 419.6,1040.8 418.8,1039.5 419.1,1037.2 419.4,1033.4 420.0,1033.5 420.8,1031.7 421.1,1029.3 422.8,1028.8 422.5,1027.9 423.9,1024.3 422.8,1022.3 423.3,1021.7 424.9,1022.0 424.2,1017.3 425.2,1019.4 425.9,1016.3 426.1,1014.8 427.2,1012.2 427.7,1012.9 427.8,1009.8 428.0,1007.3 428.4,1004.7 429.0,1007.6 430.7,1004.4 431.4,1001.0 431.2,1001.4 432.6,999.7 432.0,996.0 432.4,997.7 434.4,993.4 434.8,991.5 435.5,993.0 435.5,990.5 435.7,991.1 436.3,986.6 437.8,986.5 438.0,985.0 438.0,981.4 440.0,982.7 440.1,980.6 440.2,977.3 441.4,975.2 441.2,975.3 442.9,976.5 443.4,972.2 445.0,970.8 445.0,970.2 445.0,967.1 445.8,968.9 447.2,967.0 448.1,964.8 449.7,963.0 449.3,962.9 450.1,960.8 451.5,959.1 453.0,959.7 454.2,958.1 454.9,957.5 455.2,953.5 455.5,952.7 456.6,950.3 458.1,949.9 459.7,948.9 460.6,945.7 461.7,947.8 461.6,944.8 463.6,942.6 465.0,945.2 466.0,942.4 467.1,942.7 468.5,938.8 469.1,936.6 470.6,935.8 471.0,936.5 472.1,934.9 473.5,934.8 475.0,934.4 476.5,933.1 477.1,932.0 479.5,929.4 480.7,930.7 481.3,929.4 482.9,927.8 485.2,927.7 486.0,927.8 487.4,924.9 489.5,924.3 490.9,926.4 491.8,922.9 493.3,923.7 495.2,924.6 496.0,920.8 498.4,920.1 499.9,922.6 501.3,920.4 502.0,920.6 503.8,920.5 505.1,919.3 507.5,919.4 509.1,919.6 509.7,919.0 511.4,916.8 513.4,916.4 514.4,917.5 516.1,918.3 517.8,916.8 519.8,917.7 521.7,918.6 523.4,916.1 524.0,918.2 526.0,915.8 527.7,916.7 529.0,917.8 531.2,916.4 532.7,916.3 534.6,916.8 535.7,916.0 537.2,916.3 539.2,915.8 540.5,916.7 542.6,917.5 543.8,915.7 544.8,917.2 547.4,915.4 548.4,916.3 549.5,917.1 551.6,916.6 553.7,917.0 554.6,918.1 557.0,917.2 557.6,916.9 559.1,915.7 561.2,916.3 563.2,916.6 564.7,916.2 566.4,915.2 568.2,917.4 569.8,917.7 571.2,915.4 573.0,917.1 574.0,914.7 576.2,915.0 576.9,916.1 579.3,915.1 580.1,916.8 582.1,916.0 583.8,916.7 585.6,914.8 586.7,917.3 588.9,915.7 589.9,916.8 591.4,915.3 593.4,916.2 595.1,915.9 596.1,914.6 598.4,915.3 600.1,913.5 601.8,914.8 602.6,913.4 603.9,916.2 606.4,916.0 608.0,914.0 608.8,914.1 610.5,912.6 612.4,913.6 614.3,913.5 614.3,910.3 616.0,910.3 617.1,909.1 618.1,907.9 619.0,906.6 619.9,905.2 620.7,903.8 621.5,902.5 622.2,901.1 623.0,899.6 623.7,898.2 624.4,896.7 625.0,895.3 625.7,893.8 626.2,892.3 626.8,890.8 627.3,889.3 627.9,887.8 628.4,886.3 628.8,884.8 629.3,883.2 629.8,881.7 630.2,880.2 630.7,878.6 631.1,877.1 631.6,875.6 632.1,874.0 632.5,872.5 633.0,871.0 633.4,869.4 633.8,867.9 634.1,866.3 634.5,864.8 634.9,863.2 635.3,861.7 635.8,860.1 636.2,858.6 636.7,857.1 637.2,855.6 637.8,854.1 638.4,852.6 639.0,851.1 639.6,849.6 640.3,848.2 640.9,846.7 641.6,845.3 642.3,843.8 643.1,842.4 643.9,841.0 644.7,839.7 645.6,838.3 646.6,837.1 647.6,835.8 648.6,834.6 649.7,833.4 650.9,832.3 652.1,831.3 653.3,830.3 654.7,829.4 656.0,828.6 657.5,827.8 658.9,827.2 660.4,826.7 662.0,826.3 663.6,826.0 665.2,825.8 666.7,825.7 668.3,825.6 669.9,825.5 671.5,825.5 673.1,825.5 674.7,825.6 676.3,825.7 677.9,825.8 679.5,826.1 681.1,826.4 682.6,826.7 684.2,827.2 685.7,827.6 687.2,828.2 688.7,828.8 690.2,829.4 691.6,830.1 693.1,830.8 694.5,831.5 695.9,832.3 697.3,833.0 698.7,833.8 700.1,834.5 701.5,835.3 702.9,836.1 704.3,836.9 705.7,837.7 707.1,838.5 708.4,839.3 709.8,840.2 711.1,841.0 712.5,841.9 713.8,842.8 715.2,843.6 716.6,844.4 718.0,845.1 719.4,845.8 720.9,846.6 722.3,847.3 723.8,848.0 725.3,848.5 726.9,848.6 728.4,848.3 729.7,847.4 730.8,846.2 731.8,845.0 732.7,843.7 733.6,842.4 734.7,841.1 735.9,840.1 737.3,839.3 738.8,838.7 740.2,838.1 741.6,837.3 743.0,836.5 744.4,835.7 745.8,834.9 747.2,834.1 748.6,833.4 750.1,832.8 751.6,832.3 753.2,831.9 754.7,831.6 756.3,831.3 757.9,831.0 759.5,830.8 761.0,830.6 762.6,830.4 764.2,830.2 765.8,830.0 767.4,829.8 769.0,829.7 770.6,829.5 772.2,829.2 773.7,829.0 775.3,828.7 776.9,828.5 778.5,828.2 780.0,827.9 781.6,827.6 783.2,827.3 783.9,827.2" fill="none" stroke="#37ad6b" stroke-width="5.4" stroke-linejoin="round" />
<polyline points="199.9,805.0 201.5,805.4 203.0,805.7 204.6,806.1 206.1,806.4 207.7,806.8 209.3,807.1 210.8,807.5 212.4,807.8 213.9,808.2 215.5,808.6 217.0,809.0 218.6,809.5 220.1,809.9 221.6,810.4 223.1,810.9 224.7,811.4 226.2,812.0 227.7,812.5 229.2,813.1 230.7,813.7 232.1,814.3 233.6,814.8 235.1,815.5 236.6,816.1 238.1,816.7 239.5,817.3 241.0,818.0 242.5,818.6 243.9,819.3 245.4,820.0 246.8,820.7 248.2,821.4 249.7,822.1 251.1,822.8 252.5,823.5 253.9,824.3 255.3,825.1 256.7,825.9 258.1,826.7 259.5,827.5 260.8,828.4 262.2,829.2 263.5,830.1 264.8,831.1 266.1,832.0 267.3,833.0 268.5,834.0 269.8,835.1 270.9,836.2 272.1,837.3 273.3,838.4 274.4,839.5 275.5,840.6 276.6,841.8 277.7,842.9 278.9,844.1 280.0,845.2 281.1,846.4 282.1,847.6 283.2,848.8 284.3,850.0 285.3,851.2 286.4,852.4 287.4,853.6 288.4,854.8 289.4,856.1 290.4,857.3 291.4,858.6 292.3,859.9 293.3,861.2 294.2,862.5 295.1,863.8 296.0,865.2 296.8,866.5 297.7,867.9 298.5,869.2 299.4,870.6 300.2,872.0 301.0,873.3 301.8,874.7 302.6,876.1 303.4,877.5 304.3,878.9 305.1,880.2 305.9,881.6 306.7,883.0 307.5,884.4 308.3,885.7 309.1,887.1 309.9,888.5 310.7,889.9 311.5,891.3 312.3,892.7 313.1,894.1 313.9,895.5 314.6,896.9 315.4,898.3 316.1,899.7 316.9,901.1 317.6,902.5 318.3,904.0 318.9,905.5 319.4,907.0 320.0,908.5 320.6,910.0 321.1,911.5 321.7,913.0 322.3,914.5 322.8,916.0 323.4,917.4 324.0,918.9 324.6,920.4 325.9,922.9 325.4,923.6 327.0,926.9 326.5,925.3 327.0,928.5 327.5,930.3 328.3,932.5 328.7,934.4 329.4,931.8 329.6,936.9 330.2,935.8 332.0,938.1 332.0,940.2 332.2,943.3 332.0,942.4 333.2,945.4 334.1,943.7 333.6,946.4 334.4,950.3 335.5,952.6 335.4,951.8 335.4,955.5 337.0,957.4 337.1,958.6 337.2,959.9 337.2,961.1 338.3,962.0 338.8,963.9 338.2,962.5 338.7,964.8 340.0,967.9 340.1,971.2 340.5,972.5 340.5,973.6 341.5,973.7 341.5,977.6 341.1,975.1 341.9,980.4 342.3,978.8 343.5,981.6 343.0,981.3 343.4,987.0 343.8,987.6 345.0,985.6 345.1,987.8 345.2,992.6 345.4,993.5 345.7,994.5 346.9,995.8 346.7,998.2 346.9,997.9 348.4,1000.2 347.6,1002.7 349.6,1001.6 350.0,1002.2 350.6,1006.9 349.8,1006.1 350.6,1009.0 351.2,1011.0 350.9,1011.1 351.5,1015.6 351.9,1016.4 352.3,1017.8 353.4,1018.6 354.4,1019.1 354.8,1023.8 355.4,1023.7 355.8,1026.7 355.1,1028.8 356.3,1029.8 356.1,1028.1 357.5,1031.1 358.7,1031.3 357.9,1034.5 358.2,1037.5 358.8,1034.3 360.0,1037.0 361.0,1037.9 360.3,1040.0 360.9,1040.0 361.1,1042.5 361.3,1043.5 361.5,1048.0 361.8,1050.1 362.0,1047.9 362.2,1052.8 362.4,1054.6 362.7,1053.6 362.9,1052.9 363.1,1057.7 363.3,1057.1 363.5,1060.2 363.6,1064.4 363.8,1064.5 363.9,1063.5 364.1,1070.5 364.2,1065.8 364.4,1071.6 364.5,1073.8 364.7,1072.4 364.8,1072.3 365.7,1068.1 366.7,1069.6 367.6,1071.8 368.5,1078.0 368.5,1082.1 368.6,1075.5 368.7,1085.3 368.8,1083.3 368.9,1084.3 368.9,1083.2 369.0,1084.2 369.1,1086.0 369.2,1095.7 369.2,1089.8 369.3,1098.0 369.4,1097.0 370.1,1100.9 370.8,1100.0 371.4,1106.8 372.1,1100.9 372.8,1098.0 373.5,1105.1 374.2,1106.5 374.3,1104.4 374.4,1104.9 374.5,1117.3 374.6,1111.0 374.8,1116.7 374.9,1112.2 375.0,1111.3 375.1,1124.9 375.2,1123.3 375.4,1124.6 375.5,1123.6 376.0,1129.0 376.4,1124.2 376.9,1127.1 377.4,1127.8 377.9,1135.4 378.3,1129.9 378.8,1131.6 379.3,1135.0 379.4,1139.7 379.5,1139.5 379.6,1140.1 379.7,1136.8 379.8,1141.3 379.9,1149.3 380.0,1140.9 380.1,1151.3 380.2,1151.2 380.3,1145.7 380.4,1152.1 381.0,1157.6 381.6,1155.5 382.1,1156.0 382.7,1158.8 382.9,1158.8 383.2,1153.1 383.4,1148.8 383.7,1149.3 383.9,1147.1 384.1,1148.5 384.4,1148.1 384.6,1146.4 384.8,1141.7 385.0,1147.0 385.2,1140.1 385.4,1141.7 385.6,1141.2 385.7,1140.7 385.9,1131.5 386.1,1131.9 386.3,1136.8 386.5,1131.2 386.7,1135.3 387.0,1134.5 387.2,1140.9 387.4,1134.1 387.6,1138.2 387.9,1140.2 388.1,1137.8 388.3,1139.7 388.6,1146.6 388.8,1146.4 389.1,1141.7 389.3,1148.2 389.6,1148.4 389.9,1155.9 390.2,1153.3 390.4,1160.8 390.7,1161.3 391.0,1154.7 391.3,1160.1 391.4,1163.8 391.5,1158.2 391.7,1150.8 391.8,1149.3 391.9,1151.9 392.1,1150.7 392.2,1155.4 392.3,1144.0 392.5,1142.0 392.6,1147.4 392.8,1144.3 392.9,1137.3 393.0,1137.8 393.2,1138.8 393.3,1133.8 393.5,1135.7 393.7,1130.3 393.8,1135.3 394.0,1130.9 394.2,1124.0 394.3,1127.7 394.5,1127.3 394.7,1124.6 394.8,1126.2 395.0,1124.3 395.2,1134.7 395.3,1127.3 395.5,1128.6 395.7,1133.0 395.8,1133.2 396.0,1140.5 396.1,1133.7 396.3,1144.2 396.5,1143.1 396.6,1147.3 396.8,1140.4 397.0,1146.4 397.1,1147.3 397.2,1154.4 397.3,1155.8 397.5,1150.2 397.6,1157.6 397.7,1157.9 397.8,1155.7 398.0,1161.6 398.1,1159.7 398.2,1159.7 398.4,1161.5 398.5,1169.8 398.6,1165.5 398.7,1164.2 398.9,1169.2 399.0,1169.0 399.1,1171.5 399.2,1165.9 399.3,1166.6 399.4,1166.0 399.5,1164.6 399.6,1153.0 399.8,1158.2 399.9,1158.8 400.0,1155.1 400.1,1155.2 400.2,1152.6 400.3,1147.8 400.4,1152.5 400.5,1144.4 400.6,1147.2 400.8,1142.6 400.8,1138.4 400.9,1138.4 400.9,1141.3 401.0,1140.7 401.0,1131.1 401.0,1139.3 401.1,1127.1 401.1,1133.6 401.2,1127.6 401.2,1126.8 401.3,1126.9 401.3,1123.6 403.2,1121.6 405.1,1121.7 405.2,1126.3 405.3,1116.7 405.4,1111.9 405.4,1120.3 405.5,1111.6 405.6,1118.5 405.7,1115.7 405.8,1106.5 405.8,1109.2 405.9,1111.5 406.0,1098.4 406.1,1103.8 406.1,1105.1 406.2,1094.7 406.3,1098.3 406.4,1096.8 406.5,1095.1 407.7,1099.3 409.0,1099.1 410.3,1087.1 411.6,1091.3 411.7,1083.8 411.8,1087.8 411.9,1086.7 412.1,1081.4 412.2,1086.8 412.3,1078.8 412.4,1084.0 412.5,1075.2 412.7,1082.2 412.8,1071.2 412.9,1076.2 413.0,1072.4 413.1,1067.1 413.3,1066.1 413.4,1069.6 413.5,1066.6 414.4,1066.7 415.2,1066.0 416.1,1065.7 417.0,1065.4 417.9,1059.0 418.1,1063.5 418.3,1061.0 418.6,1059.8 418.8,1053.7 419.0,1050.4 419.3,1055.5 419.5,1044.3 419.8,1042.1 420.0,1046.6 420.2,1049.4 420.5,1043.6 420.7,1040.0 421.3,1039.3 421.5,1040.3 421.7,1037.1 422.4,1036.5 422.3,1034.2 423.3,1030.0 423.7,1032.0 423.8,1029.3 424.0,1028.6 425.9,1025.2 425.5,1026.8 426.3,1022.9 427.0,1019.3 426.6,1022.2 427.2,1016.3 429.2,1018.6 429.8,1017.1 430.3,1013.5 430.4,1011.2 431.1,1012.3 430.6,1008.3 431.1,1009.7 432.5,1005.7 433.0,1006.1 433.5,1006.0 434.3,1001.9 433.5,999.4 434.0,1000.5 435.6,996.3 436.3,995.3 436.0,994.9 437.3,994.9 436.4,993.3 437.0,991.4 438.3,986.9 437.9,988.9 438.4,983.9 440.6,984.9 440.7,982.4 441.5,981.1 441.7,978.7 443.1,978.7 444.4,978.6 446.1,977.7 446.6,974.7 446.9,973.3 449.1,972.0 449.4,970.0 451.0,970.3 451.1,967.9 452.1,966.2 453.4,964.6 455.6,965.9 455.1,964.1 456.4,961.3 457.2,961.6 457.4,961.9 458.8,956.5 459.7,959.0 459.3,956.3 461.3,953.8 460.7,953.8 461.9,950.2 463.3,947.5 463.3,950.2 464.0,945.1 464.8,945.8 466.1,944.4 467.9,941.8 468.7,942.1 469.4,938.4 469.8,938.2 471.4,937.8 472.4,938.4 474.0,935.7 475.4,936.6 476.3,934.1 477.7,933.7 479.0,932.3 481.4,933.6 481.7,930.9 484.0,931.8 484.9,930.5 486.8,928.9 487.5,929.5 489.7,928.0 491.1,928.7 491.9,924.7 493.9,924.7 495.6,926.0 496.5,925.3 498.5,924.2 499.1,922.6 500.3,922.4 502.0,920.0 503.4,920.0 505.6,918.5 506.3,918.9 508.7,918.1 510.5,920.2 511.4,919.5 513.3,920.0 514.4,920.3 516.6,917.7 517.3,919.6 519.9,919.7 521.5,917.5 523.2,918.8 524.2,920.3 526.0,919.2 527.0,920.9 529.2,917.9 530.7,920.1 532.2,919.9 533.5,921.2 535.5,917.9 536.8,920.6 539.0,919.5 540.0,920.0 542.3,917.8 543.0,919.9 545.2,919.7 546.3,920.1 548.2,919.6 549.5,918.1 551.3,918.1 553.5,918.4 555.0,918.5 556.6,917.9 557.3,917.9 559.0,916.1 561.4,917.8 562.7,917.8 564.2,916.6 565.8,917.4 567.7,917.0 568.7,917.7 570.8,916.0 572.7,918.0 573.5,918.2 575.7,916.0 576.6,918.5 579.0,915.3 579.8,918.2 582.0,917.0 582.9,917.3 585.0,917.1 586.9,917.0 588.4,917.9 590.1,916.2 591.8,917.1 593.1,915.8 594.4,917.7 596.4,916.6 597.8,916.9 599.9,915.1 601.0,916.7 602.3,915.7 603.8,915.0 605.8,916.0 607.7,916.9 609.3,915.9 611.2,916.6 612.0,917.2 614.0,917.1 615.3,915.2 616.8,914.7 618.3,914.1 619.7,913.4 621.1,912.6 622.4,911.7 623.7,910.8 625.0,909.8 626.3,908.8 627.5,907.8 628.7,906.7 629.8,905.6 630.9,904.4 631.8,903.1 632.8,901.8 633.6,900.5 634.5,899.1 635.2,897.7 635.9,896.3 636.6,894.8 637.3,893.4 637.9,891.9 638.5,890.4 639.1,888.9 639.7,887.4 640.3,886.0 640.9,884.5 641.5,883.0 642.0,881.5 642.6,880.0 643.2,878.5 643.7,877.0 644.3,875.5 644.9,874.0 645.4,872.5 646.0,871.0 646.5,869.5 647.1,868.0 647.6,866.5 648.1,865.0 648.6,863.4 649.1,861.9 649.6,860.4 650.0,858.9 650.5,857.3 650.9,855.8 651.3,854.2 651.7,852.7 652.1,851.1 652.5,849.6 652.8,848.0 653.2,846.5 653.6,844.9 653.9,843.3 654.3,841.8 654.7,840.3 655.2,838.7 655.6,837.2 656.1,835.7 656.6,834.1 657.3,832.7 657.9,831.2 658.7,829.8 659.4,828.4 660.3,827.0 661.2,825.7 662.1,824.4 663.1,823.2 664.2,822.0 665.3,820.8 666.5,819.7 667.7,818.7 669.0,817.7 670.3,816.9 671.7,816.1 673.2,815.6 674.8,815.2 676.4,814.9 677.9,814.8 679.5,814.7 681.1,814.8 682.7,814.9 684.3,815.1 685.9,815.3 687.5,815.7 689.0,816.1 690.6,816.5 692.1,817.0 693.6,817.5 695.1,818.1 696.6,818.7 698.0,819.4 699.5,820.0 700.9,820.7 702.3,821.5 703.7,822.3 705.1,823.1 706.5,823.9 707.9,824.7 709.2,825.5 710.6,826.4 711.9,827.2 713.3,828.1 714.6,829.0 716.0,829.8 717.3,830.7 718.6,831.7 719.9,832.6 721.2,833.6 722.5,834.5 723.7,835.5 725.0,836.4 726.3,837.4 727.6,838.3 729.0,839.1 730.4,839.9 731.8,840.6 733.3,841.3 734.8,841.9 736.3,842.2 737.9,842.1 739.4,841.6 740.8,840.7 741.9,839.6 742.7,838.2 743.5,836.8 744.1,835.4 744.6,833.8 745.1,832.3 745.5,830.8 745.8,829.2 746.2,827.6 746.6,826.1 746.9,824.5 747.3,823.0 747.7,821.4 748.2,819.9 748.6,818.3 748.8,816.8 749.1,815.2 749.7,813.7 750.5,812.3 751.6,811.1 752.8,810.2 754.2,809.3 755.6,808.5 757.0,807.9 758.5,807.2 760.0,806.6 761.5,806.0 762.9,805.4 764.4,804.9 765.9,804.3 767.4,803.8 768.9,803.2 770.4,802.7 771.9,802.1 773.4,801.5 774.9,800.9 776.4,800.3 777.9,799.7 779.4,799.2 780.9,798.6 782.4,798.1 783.9,797.5 785.4,797.0 786.9,796.4 787.4,796.2" fill="none" stroke="#b177de" stroke-width="5.4" stroke-linejoin="round" />
<rect x="166.4" y="737" width="668.6" height="483.5" fill="none" stroke="#000" stroke-width="2"/>
<g stroke="#000" stroke-width="1.8" fill="none"><line x1="208.3" y1="737" x2="208.3" y2="746"/><line x1="208.3" y1="1220.5" x2="208.3" y2="1211.5"/>
<line x1="291.9" y1="737" x2="291.9" y2="746"/><line x1="291.9" y1="1220.5" x2="291.9" y2="1211.5"/>
<line x1="375.4" y1="737" x2="375.4" y2="746"/><line x1="375.4" y1="1220.5" x2="375.4" y2="1211.5"/>
<line x1="458.9" y1="737" x2="458.9" y2="746"/><line x1="458.9" y1="1220.5" x2="458.9" y2="1211.5"/>
<line x1="542.5" y1="737" x2="542.5" y2="746"/><line x1="542.5" y1="1220.5" x2="542.5" y2="1211.5"/>
<line x1="626.0" y1="737" x2="626.0" y2="746"/><line x1="626.0" y1="1220.5" x2="626.0" y2="1211.5"/>
<line x1="709.6" y1="737" x2="709.6" y2="746"/><line x1="709.6" y1="1220.5" x2="709.6" y2="1211.5"/>
<line x1="793.2" y1="737" x2="793.2" y2="746"/><line x1="793.2" y1="1220.5" x2="793.2" y2="1211.5"/>
<line x1="166.4" y1="771.6" x2="175.4" y2="771.6"/><line x1="835" y1="771.6" x2="826" y2="771.6"/>
<line x1="166.4" y1="840.7" x2="175.4" y2="840.7"/><line x1="835" y1="840.7" x2="826" y2="840.7"/>
<line x1="166.4" y1="909.8" x2="175.4" y2="909.8"/><line x1="835" y1="909.8" x2="826" y2="909.8"/>
<line x1="166.4" y1="978.9" x2="175.4" y2="978.9"/><line x1="835" y1="978.9" x2="826" y2="978.9"/>
<line x1="166.4" y1="1048.0" x2="175.4" y2="1048.0"/><line x1="835" y1="1048.0" x2="826" y2="1048.0"/>
<line x1="166.4" y1="1117.1" x2="175.4" y2="1117.1"/><line x1="835" y1="1117.1" x2="826" y2="1117.1"/>
<line x1="166.4" y1="1186.2" x2="175.4" y2="1186.2"/><line x1="835" y1="1186.2" x2="826" y2="1186.2"/></g>
<rect x="606.5" y="959.5" width="182" height="205.6" fill="#fff" stroke="#333" stroke-width="1.2"/>
<line x1="611" y1="981.6" x2="680.7" y2="981.6" stroke="#4a3c38" stroke-width="6"/>
<text transform="translate(687.6 993.5) scale(1 1.03)" class="lg" text-anchor="start">Cycle 1</text>
<line x1="611" y1="1021.8" x2="680.7" y2="1021.8" stroke="#f00000" stroke-width="6"/>
<text transform="translate(687.6 1033.8) scale(1 1.03)" class="lg" text-anchor="start">Cycle 2</text>
<line x1="611" y1="1062.1" x2="680.7" y2="1062.1" stroke="#1a6fdf" stroke-width="6"/>
<text transform="translate(687.6 1074.0) scale(1 1.03)" class="lg" text-anchor="start">Cycle 3</text>
<line x1="611" y1="1102.3" x2="680.7" y2="1102.3" stroke="#b177de" stroke-width="6"/>
<text transform="translate(687.6 1114.2) scale(1 1.03)" class="lg" text-anchor="start">Cycle 4</text>
<line x1="611" y1="1142.6" x2="680.7" y2="1142.6" stroke="#37ad6b" stroke-width="6"/>
<text transform="translate(687.6 1154.5) scale(1 1.03)" class="lg" text-anchor="start">Cycle 5</text>
<text transform="translate(156.6 784.6) scale(1.015 1.12)" class="tk2" text-anchor="end">0</text>
<text transform="translate(156.6 853.7) scale(1.015 1.12)" class="tk2" text-anchor="end">-2000</text>
<text transform="translate(156.6 922.8) scale(1.015 1.12)" class="tk2" text-anchor="end">-4000</text>
<text transform="translate(156.6 991.9) scale(1.015 1.12)" class="tk2" text-anchor="end">-6000</text>
<text transform="translate(156.6 1061.0) scale(1.015 1.12)" class="tk2" text-anchor="end">-8000</text>
<text transform="translate(156.6 1130.1) scale(1.015 1.12)" class="tk2" text-anchor="end">-10000</text>
<text transform="translate(156.6 1199.2) scale(1.015 1.12)" class="tk2" text-anchor="end">-12000</text>
<text transform="translate(208.3 1264.3) scale(1.04 1.08)" class="tk2" text-anchor="middle">3.0</text>
<text transform="translate(291.9 1264.3) scale(1.04 1.08)" class="tk2" text-anchor="middle">3.2</text>
<text transform="translate(375.4 1264.3) scale(1.04 1.08)" class="tk2" text-anchor="middle">3.4</text>
<text transform="translate(458.9 1264.3) scale(1.04 1.08)" class="tk2" text-anchor="middle">3.6</text>
<text transform="translate(542.5 1264.3) scale(1.04 1.08)" class="tk2" text-anchor="middle">3.8</text>
<text transform="translate(626.0 1264.3) scale(1.04 1.08)" class="tk2" text-anchor="middle">4.0</text>
<text transform="translate(709.6 1264.3) scale(1.04 1.08)" class="tk2" text-anchor="middle">4.2</text>
<text transform="translate(793.2 1264.3) scale(1.04 1.08)" class="tk2" text-anchor="middle">4.4</text>
<text transform="translate(501.6 1332.8) scale(0.965 1)" class="ax" text-anchor="middle">Voltage(V)</text>
<text transform="translate(490.0 1391.3)" class="ax" text-anchor="middle">(b)</text>
<text transform="translate(30.0 978.8) rotate(-90) scale(1.03 1)" class="ax" text-anchor="middle">dQ/dV(Ah/V)</text>
</svg>
</body></html>
